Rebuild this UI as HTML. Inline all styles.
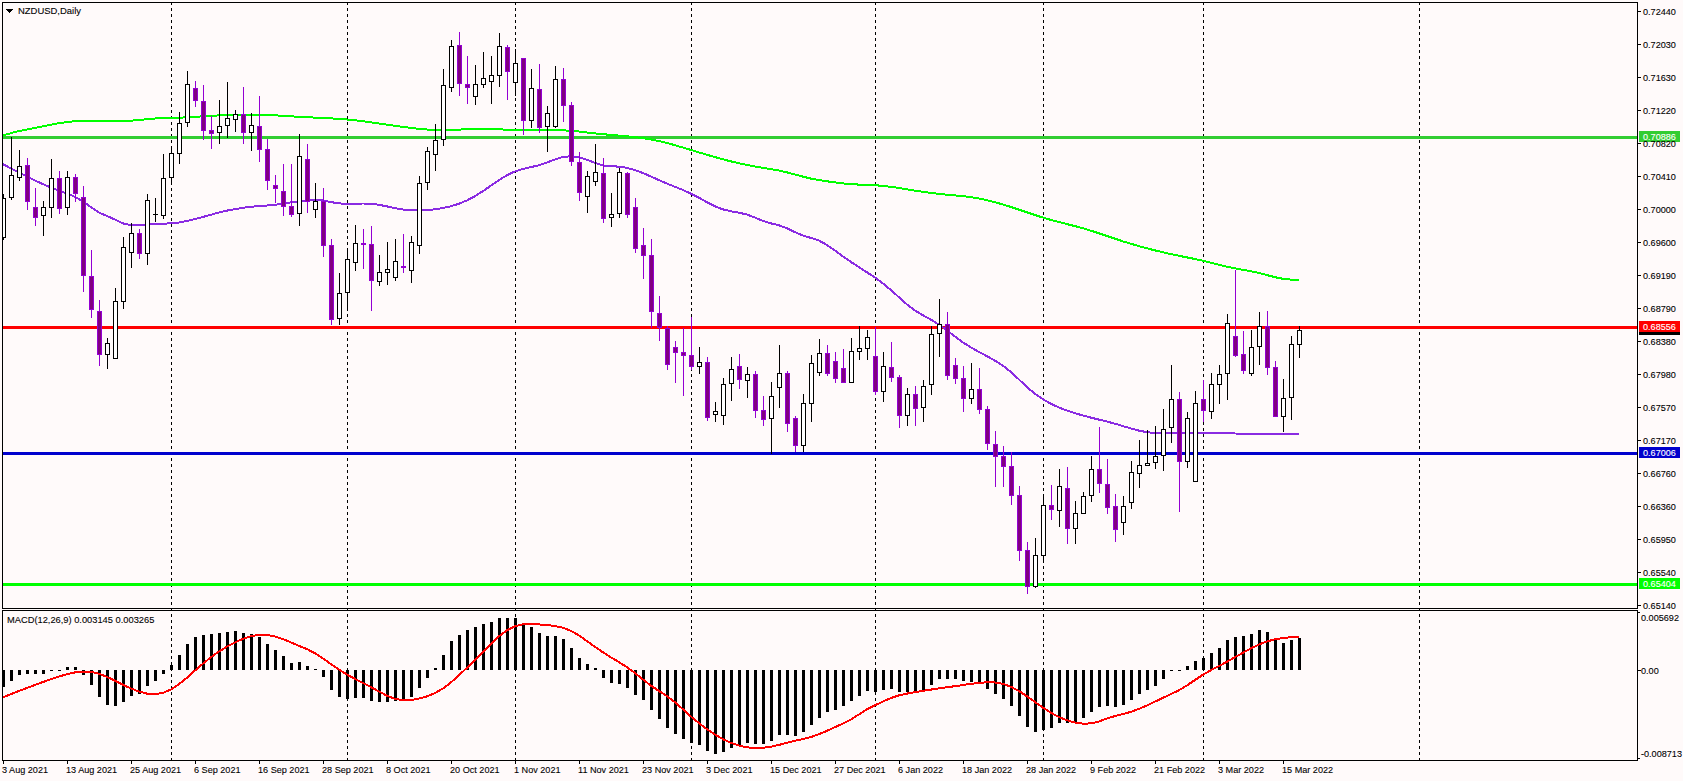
<!DOCTYPE html>
<html><head><meta charset="utf-8"><title>NZDUSD,Daily</title>
<style>html,body{margin:0;padding:0;background:#FFFAFA;overflow:hidden}svg{display:block}</style>
</head><body><svg width="1683" height="781" viewBox="0 0 1683 781" shape-rendering="crispEdges"><rect width="1683" height="781" fill="#FFFAFA"/><rect x="171" y="3" width="1" height="2" fill="#000"/><rect x="171" y="8" width="1" height="3" fill="#000"/><rect x="171" y="14" width="1" height="3" fill="#000"/><rect x="171" y="20" width="1" height="3" fill="#000"/><rect x="171" y="26" width="1" height="3" fill="#000"/><rect x="171" y="32" width="1" height="3" fill="#000"/><rect x="171" y="38" width="1" height="3" fill="#000"/><rect x="171" y="44" width="1" height="3" fill="#000"/><rect x="171" y="50" width="1" height="3" fill="#000"/><rect x="171" y="56" width="1" height="3" fill="#000"/><rect x="171" y="62" width="1" height="3" fill="#000"/><rect x="171" y="68" width="1" height="3" fill="#000"/><rect x="171" y="74" width="1" height="3" fill="#000"/><rect x="171" y="80" width="1" height="3" fill="#000"/><rect x="171" y="86" width="1" height="3" fill="#000"/><rect x="171" y="92" width="1" height="3" fill="#000"/><rect x="171" y="98" width="1" height="3" fill="#000"/><rect x="171" y="104" width="1" height="3" fill="#000"/><rect x="171" y="110" width="1" height="3" fill="#000"/><rect x="171" y="116" width="1" height="3" fill="#000"/><rect x="171" y="122" width="1" height="3" fill="#000"/><rect x="171" y="128" width="1" height="3" fill="#000"/><rect x="171" y="134" width="1" height="3" fill="#000"/><rect x="171" y="140" width="1" height="3" fill="#000"/><rect x="171" y="146" width="1" height="3" fill="#000"/><rect x="171" y="152" width="1" height="3" fill="#000"/><rect x="171" y="158" width="1" height="3" fill="#000"/><rect x="171" y="164" width="1" height="3" fill="#000"/><rect x="171" y="170" width="1" height="3" fill="#000"/><rect x="171" y="176" width="1" height="3" fill="#000"/><rect x="171" y="182" width="1" height="3" fill="#000"/><rect x="171" y="188" width="1" height="3" fill="#000"/><rect x="171" y="194" width="1" height="3" fill="#000"/><rect x="171" y="200" width="1" height="3" fill="#000"/><rect x="171" y="206" width="1" height="3" fill="#000"/><rect x="171" y="212" width="1" height="3" fill="#000"/><rect x="171" y="218" width="1" height="3" fill="#000"/><rect x="171" y="224" width="1" height="3" fill="#000"/><rect x="171" y="230" width="1" height="3" fill="#000"/><rect x="171" y="236" width="1" height="3" fill="#000"/><rect x="171" y="242" width="1" height="3" fill="#000"/><rect x="171" y="248" width="1" height="3" fill="#000"/><rect x="171" y="254" width="1" height="3" fill="#000"/><rect x="171" y="260" width="1" height="3" fill="#000"/><rect x="171" y="266" width="1" height="3" fill="#000"/><rect x="171" y="272" width="1" height="3" fill="#000"/><rect x="171" y="278" width="1" height="3" fill="#000"/><rect x="171" y="284" width="1" height="3" fill="#000"/><rect x="171" y="290" width="1" height="3" fill="#000"/><rect x="171" y="296" width="1" height="3" fill="#000"/><rect x="171" y="302" width="1" height="3" fill="#000"/><rect x="171" y="308" width="1" height="3" fill="#000"/><rect x="171" y="314" width="1" height="3" fill="#000"/><rect x="171" y="320" width="1" height="3" fill="#000"/><rect x="171" y="326" width="1" height="3" fill="#000"/><rect x="171" y="332" width="1" height="3" fill="#000"/><rect x="171" y="338" width="1" height="3" fill="#000"/><rect x="171" y="344" width="1" height="3" fill="#000"/><rect x="171" y="350" width="1" height="3" fill="#000"/><rect x="171" y="356" width="1" height="3" fill="#000"/><rect x="171" y="362" width="1" height="3" fill="#000"/><rect x="171" y="368" width="1" height="3" fill="#000"/><rect x="171" y="374" width="1" height="3" fill="#000"/><rect x="171" y="380" width="1" height="3" fill="#000"/><rect x="171" y="386" width="1" height="3" fill="#000"/><rect x="171" y="392" width="1" height="3" fill="#000"/><rect x="171" y="398" width="1" height="3" fill="#000"/><rect x="171" y="404" width="1" height="3" fill="#000"/><rect x="171" y="410" width="1" height="3" fill="#000"/><rect x="171" y="416" width="1" height="3" fill="#000"/><rect x="171" y="422" width="1" height="3" fill="#000"/><rect x="171" y="428" width="1" height="3" fill="#000"/><rect x="171" y="434" width="1" height="3" fill="#000"/><rect x="171" y="440" width="1" height="3" fill="#000"/><rect x="171" y="446" width="1" height="3" fill="#000"/><rect x="171" y="452" width="1" height="3" fill="#000"/><rect x="171" y="458" width="1" height="3" fill="#000"/><rect x="171" y="464" width="1" height="3" fill="#000"/><rect x="171" y="470" width="1" height="3" fill="#000"/><rect x="171" y="476" width="1" height="3" fill="#000"/><rect x="171" y="482" width="1" height="3" fill="#000"/><rect x="171" y="488" width="1" height="3" fill="#000"/><rect x="171" y="494" width="1" height="3" fill="#000"/><rect x="171" y="500" width="1" height="3" fill="#000"/><rect x="171" y="506" width="1" height="3" fill="#000"/><rect x="171" y="512" width="1" height="3" fill="#000"/><rect x="171" y="518" width="1" height="3" fill="#000"/><rect x="171" y="524" width="1" height="3" fill="#000"/><rect x="171" y="530" width="1" height="3" fill="#000"/><rect x="171" y="536" width="1" height="3" fill="#000"/><rect x="171" y="542" width="1" height="3" fill="#000"/><rect x="171" y="548" width="1" height="3" fill="#000"/><rect x="171" y="554" width="1" height="3" fill="#000"/><rect x="171" y="560" width="1" height="3" fill="#000"/><rect x="171" y="566" width="1" height="3" fill="#000"/><rect x="171" y="572" width="1" height="3" fill="#000"/><rect x="171" y="578" width="1" height="3" fill="#000"/><rect x="171" y="584" width="1" height="3" fill="#000"/><rect x="171" y="590" width="1" height="3" fill="#000"/><rect x="171" y="596" width="1" height="3" fill="#000"/><rect x="171" y="602" width="1" height="3" fill="#000"/><rect x="171" y="614" width="1" height="3" fill="#000"/><rect x="171" y="620" width="1" height="3" fill="#000"/><rect x="171" y="626" width="1" height="3" fill="#000"/><rect x="171" y="632" width="1" height="3" fill="#000"/><rect x="171" y="638" width="1" height="3" fill="#000"/><rect x="171" y="644" width="1" height="3" fill="#000"/><rect x="171" y="650" width="1" height="3" fill="#000"/><rect x="171" y="656" width="1" height="3" fill="#000"/><rect x="171" y="662" width="1" height="3" fill="#000"/><rect x="171" y="668" width="1" height="3" fill="#000"/><rect x="171" y="674" width="1" height="3" fill="#000"/><rect x="171" y="680" width="1" height="3" fill="#000"/><rect x="171" y="686" width="1" height="3" fill="#000"/><rect x="171" y="692" width="1" height="3" fill="#000"/><rect x="171" y="698" width="1" height="3" fill="#000"/><rect x="171" y="704" width="1" height="3" fill="#000"/><rect x="171" y="710" width="1" height="3" fill="#000"/><rect x="171" y="716" width="1" height="3" fill="#000"/><rect x="171" y="722" width="1" height="3" fill="#000"/><rect x="171" y="728" width="1" height="3" fill="#000"/><rect x="171" y="734" width="1" height="3" fill="#000"/><rect x="171" y="740" width="1" height="3" fill="#000"/><rect x="171" y="746" width="1" height="3" fill="#000"/><rect x="171" y="752" width="1" height="3" fill="#000"/><rect x="171" y="758" width="1" height="2" fill="#000"/><rect x="171" y="609" width="1" height="1" fill="#000"/><rect x="347" y="3" width="1" height="2" fill="#000"/><rect x="347" y="8" width="1" height="3" fill="#000"/><rect x="347" y="14" width="1" height="3" fill="#000"/><rect x="347" y="20" width="1" height="3" fill="#000"/><rect x="347" y="26" width="1" height="3" fill="#000"/><rect x="347" y="32" width="1" height="3" fill="#000"/><rect x="347" y="38" width="1" height="3" fill="#000"/><rect x="347" y="44" width="1" height="3" fill="#000"/><rect x="347" y="50" width="1" height="3" fill="#000"/><rect x="347" y="56" width="1" height="3" fill="#000"/><rect x="347" y="62" width="1" height="3" fill="#000"/><rect x="347" y="68" width="1" height="3" fill="#000"/><rect x="347" y="74" width="1" height="3" fill="#000"/><rect x="347" y="80" width="1" height="3" fill="#000"/><rect x="347" y="86" width="1" height="3" fill="#000"/><rect x="347" y="92" width="1" height="3" fill="#000"/><rect x="347" y="98" width="1" height="3" fill="#000"/><rect x="347" y="104" width="1" height="3" fill="#000"/><rect x="347" y="110" width="1" height="3" fill="#000"/><rect x="347" y="116" width="1" height="3" fill="#000"/><rect x="347" y="122" width="1" height="3" fill="#000"/><rect x="347" y="128" width="1" height="3" fill="#000"/><rect x="347" y="134" width="1" height="3" fill="#000"/><rect x="347" y="140" width="1" height="3" fill="#000"/><rect x="347" y="146" width="1" height="3" fill="#000"/><rect x="347" y="152" width="1" height="3" fill="#000"/><rect x="347" y="158" width="1" height="3" fill="#000"/><rect x="347" y="164" width="1" height="3" fill="#000"/><rect x="347" y="170" width="1" height="3" fill="#000"/><rect x="347" y="176" width="1" height="3" fill="#000"/><rect x="347" y="182" width="1" height="3" fill="#000"/><rect x="347" y="188" width="1" height="3" fill="#000"/><rect x="347" y="194" width="1" height="3" fill="#000"/><rect x="347" y="200" width="1" height="3" fill="#000"/><rect x="347" y="206" width="1" height="3" fill="#000"/><rect x="347" y="212" width="1" height="3" fill="#000"/><rect x="347" y="218" width="1" height="3" fill="#000"/><rect x="347" y="224" width="1" height="3" fill="#000"/><rect x="347" y="230" width="1" height="3" fill="#000"/><rect x="347" y="236" width="1" height="3" fill="#000"/><rect x="347" y="242" width="1" height="3" fill="#000"/><rect x="347" y="248" width="1" height="3" fill="#000"/><rect x="347" y="254" width="1" height="3" fill="#000"/><rect x="347" y="260" width="1" height="3" fill="#000"/><rect x="347" y="266" width="1" height="3" fill="#000"/><rect x="347" y="272" width="1" height="3" fill="#000"/><rect x="347" y="278" width="1" height="3" fill="#000"/><rect x="347" y="284" width="1" height="3" fill="#000"/><rect x="347" y="290" width="1" height="3" fill="#000"/><rect x="347" y="296" width="1" height="3" fill="#000"/><rect x="347" y="302" width="1" height="3" fill="#000"/><rect x="347" y="308" width="1" height="3" fill="#000"/><rect x="347" y="314" width="1" height="3" fill="#000"/><rect x="347" y="320" width="1" height="3" fill="#000"/><rect x="347" y="326" width="1" height="3" fill="#000"/><rect x="347" y="332" width="1" height="3" fill="#000"/><rect x="347" y="338" width="1" height="3" fill="#000"/><rect x="347" y="344" width="1" height="3" fill="#000"/><rect x="347" y="350" width="1" height="3" fill="#000"/><rect x="347" y="356" width="1" height="3" fill="#000"/><rect x="347" y="362" width="1" height="3" fill="#000"/><rect x="347" y="368" width="1" height="3" fill="#000"/><rect x="347" y="374" width="1" height="3" fill="#000"/><rect x="347" y="380" width="1" height="3" fill="#000"/><rect x="347" y="386" width="1" height="3" fill="#000"/><rect x="347" y="392" width="1" height="3" fill="#000"/><rect x="347" y="398" width="1" height="3" fill="#000"/><rect x="347" y="404" width="1" height="3" fill="#000"/><rect x="347" y="410" width="1" height="3" fill="#000"/><rect x="347" y="416" width="1" height="3" fill="#000"/><rect x="347" y="422" width="1" height="3" fill="#000"/><rect x="347" y="428" width="1" height="3" fill="#000"/><rect x="347" y="434" width="1" height="3" fill="#000"/><rect x="347" y="440" width="1" height="3" fill="#000"/><rect x="347" y="446" width="1" height="3" fill="#000"/><rect x="347" y="452" width="1" height="3" fill="#000"/><rect x="347" y="458" width="1" height="3" fill="#000"/><rect x="347" y="464" width="1" height="3" fill="#000"/><rect x="347" y="470" width="1" height="3" fill="#000"/><rect x="347" y="476" width="1" height="3" fill="#000"/><rect x="347" y="482" width="1" height="3" fill="#000"/><rect x="347" y="488" width="1" height="3" fill="#000"/><rect x="347" y="494" width="1" height="3" fill="#000"/><rect x="347" y="500" width="1" height="3" fill="#000"/><rect x="347" y="506" width="1" height="3" fill="#000"/><rect x="347" y="512" width="1" height="3" fill="#000"/><rect x="347" y="518" width="1" height="3" fill="#000"/><rect x="347" y="524" width="1" height="3" fill="#000"/><rect x="347" y="530" width="1" height="3" fill="#000"/><rect x="347" y="536" width="1" height="3" fill="#000"/><rect x="347" y="542" width="1" height="3" fill="#000"/><rect x="347" y="548" width="1" height="3" fill="#000"/><rect x="347" y="554" width="1" height="3" fill="#000"/><rect x="347" y="560" width="1" height="3" fill="#000"/><rect x="347" y="566" width="1" height="3" fill="#000"/><rect x="347" y="572" width="1" height="3" fill="#000"/><rect x="347" y="578" width="1" height="3" fill="#000"/><rect x="347" y="584" width="1" height="3" fill="#000"/><rect x="347" y="590" width="1" height="3" fill="#000"/><rect x="347" y="596" width="1" height="3" fill="#000"/><rect x="347" y="602" width="1" height="3" fill="#000"/><rect x="347" y="614" width="1" height="3" fill="#000"/><rect x="347" y="620" width="1" height="3" fill="#000"/><rect x="347" y="626" width="1" height="3" fill="#000"/><rect x="347" y="632" width="1" height="3" fill="#000"/><rect x="347" y="638" width="1" height="3" fill="#000"/><rect x="347" y="644" width="1" height="3" fill="#000"/><rect x="347" y="650" width="1" height="3" fill="#000"/><rect x="347" y="656" width="1" height="3" fill="#000"/><rect x="347" y="662" width="1" height="3" fill="#000"/><rect x="347" y="668" width="1" height="3" fill="#000"/><rect x="347" y="674" width="1" height="3" fill="#000"/><rect x="347" y="680" width="1" height="3" fill="#000"/><rect x="347" y="686" width="1" height="3" fill="#000"/><rect x="347" y="692" width="1" height="3" fill="#000"/><rect x="347" y="698" width="1" height="3" fill="#000"/><rect x="347" y="704" width="1" height="3" fill="#000"/><rect x="347" y="710" width="1" height="3" fill="#000"/><rect x="347" y="716" width="1" height="3" fill="#000"/><rect x="347" y="722" width="1" height="3" fill="#000"/><rect x="347" y="728" width="1" height="3" fill="#000"/><rect x="347" y="734" width="1" height="3" fill="#000"/><rect x="347" y="740" width="1" height="3" fill="#000"/><rect x="347" y="746" width="1" height="3" fill="#000"/><rect x="347" y="752" width="1" height="3" fill="#000"/><rect x="347" y="758" width="1" height="2" fill="#000"/><rect x="347" y="609" width="1" height="1" fill="#000"/><rect x="515" y="3" width="1" height="2" fill="#000"/><rect x="515" y="8" width="1" height="3" fill="#000"/><rect x="515" y="14" width="1" height="3" fill="#000"/><rect x="515" y="20" width="1" height="3" fill="#000"/><rect x="515" y="26" width="1" height="3" fill="#000"/><rect x="515" y="32" width="1" height="3" fill="#000"/><rect x="515" y="38" width="1" height="3" fill="#000"/><rect x="515" y="44" width="1" height="3" fill="#000"/><rect x="515" y="50" width="1" height="3" fill="#000"/><rect x="515" y="56" width="1" height="3" fill="#000"/><rect x="515" y="62" width="1" height="3" fill="#000"/><rect x="515" y="68" width="1" height="3" fill="#000"/><rect x="515" y="74" width="1" height="3" fill="#000"/><rect x="515" y="80" width="1" height="3" fill="#000"/><rect x="515" y="86" width="1" height="3" fill="#000"/><rect x="515" y="92" width="1" height="3" fill="#000"/><rect x="515" y="98" width="1" height="3" fill="#000"/><rect x="515" y="104" width="1" height="3" fill="#000"/><rect x="515" y="110" width="1" height="3" fill="#000"/><rect x="515" y="116" width="1" height="3" fill="#000"/><rect x="515" y="122" width="1" height="3" fill="#000"/><rect x="515" y="128" width="1" height="3" fill="#000"/><rect x="515" y="134" width="1" height="3" fill="#000"/><rect x="515" y="140" width="1" height="3" fill="#000"/><rect x="515" y="146" width="1" height="3" fill="#000"/><rect x="515" y="152" width="1" height="3" fill="#000"/><rect x="515" y="158" width="1" height="3" fill="#000"/><rect x="515" y="164" width="1" height="3" fill="#000"/><rect x="515" y="170" width="1" height="3" fill="#000"/><rect x="515" y="176" width="1" height="3" fill="#000"/><rect x="515" y="182" width="1" height="3" fill="#000"/><rect x="515" y="188" width="1" height="3" fill="#000"/><rect x="515" y="194" width="1" height="3" fill="#000"/><rect x="515" y="200" width="1" height="3" fill="#000"/><rect x="515" y="206" width="1" height="3" fill="#000"/><rect x="515" y="212" width="1" height="3" fill="#000"/><rect x="515" y="218" width="1" height="3" fill="#000"/><rect x="515" y="224" width="1" height="3" fill="#000"/><rect x="515" y="230" width="1" height="3" fill="#000"/><rect x="515" y="236" width="1" height="3" fill="#000"/><rect x="515" y="242" width="1" height="3" fill="#000"/><rect x="515" y="248" width="1" height="3" fill="#000"/><rect x="515" y="254" width="1" height="3" fill="#000"/><rect x="515" y="260" width="1" height="3" fill="#000"/><rect x="515" y="266" width="1" height="3" fill="#000"/><rect x="515" y="272" width="1" height="3" fill="#000"/><rect x="515" y="278" width="1" height="3" fill="#000"/><rect x="515" y="284" width="1" height="3" fill="#000"/><rect x="515" y="290" width="1" height="3" fill="#000"/><rect x="515" y="296" width="1" height="3" fill="#000"/><rect x="515" y="302" width="1" height="3" fill="#000"/><rect x="515" y="308" width="1" height="3" fill="#000"/><rect x="515" y="314" width="1" height="3" fill="#000"/><rect x="515" y="320" width="1" height="3" fill="#000"/><rect x="515" y="326" width="1" height="3" fill="#000"/><rect x="515" y="332" width="1" height="3" fill="#000"/><rect x="515" y="338" width="1" height="3" fill="#000"/><rect x="515" y="344" width="1" height="3" fill="#000"/><rect x="515" y="350" width="1" height="3" fill="#000"/><rect x="515" y="356" width="1" height="3" fill="#000"/><rect x="515" y="362" width="1" height="3" fill="#000"/><rect x="515" y="368" width="1" height="3" fill="#000"/><rect x="515" y="374" width="1" height="3" fill="#000"/><rect x="515" y="380" width="1" height="3" fill="#000"/><rect x="515" y="386" width="1" height="3" fill="#000"/><rect x="515" y="392" width="1" height="3" fill="#000"/><rect x="515" y="398" width="1" height="3" fill="#000"/><rect x="515" y="404" width="1" height="3" fill="#000"/><rect x="515" y="410" width="1" height="3" fill="#000"/><rect x="515" y="416" width="1" height="3" fill="#000"/><rect x="515" y="422" width="1" height="3" fill="#000"/><rect x="515" y="428" width="1" height="3" fill="#000"/><rect x="515" y="434" width="1" height="3" fill="#000"/><rect x="515" y="440" width="1" height="3" fill="#000"/><rect x="515" y="446" width="1" height="3" fill="#000"/><rect x="515" y="452" width="1" height="3" fill="#000"/><rect x="515" y="458" width="1" height="3" fill="#000"/><rect x="515" y="464" width="1" height="3" fill="#000"/><rect x="515" y="470" width="1" height="3" fill="#000"/><rect x="515" y="476" width="1" height="3" fill="#000"/><rect x="515" y="482" width="1" height="3" fill="#000"/><rect x="515" y="488" width="1" height="3" fill="#000"/><rect x="515" y="494" width="1" height="3" fill="#000"/><rect x="515" y="500" width="1" height="3" fill="#000"/><rect x="515" y="506" width="1" height="3" fill="#000"/><rect x="515" y="512" width="1" height="3" fill="#000"/><rect x="515" y="518" width="1" height="3" fill="#000"/><rect x="515" y="524" width="1" height="3" fill="#000"/><rect x="515" y="530" width="1" height="3" fill="#000"/><rect x="515" y="536" width="1" height="3" fill="#000"/><rect x="515" y="542" width="1" height="3" fill="#000"/><rect x="515" y="548" width="1" height="3" fill="#000"/><rect x="515" y="554" width="1" height="3" fill="#000"/><rect x="515" y="560" width="1" height="3" fill="#000"/><rect x="515" y="566" width="1" height="3" fill="#000"/><rect x="515" y="572" width="1" height="3" fill="#000"/><rect x="515" y="578" width="1" height="3" fill="#000"/><rect x="515" y="584" width="1" height="3" fill="#000"/><rect x="515" y="590" width="1" height="3" fill="#000"/><rect x="515" y="596" width="1" height="3" fill="#000"/><rect x="515" y="602" width="1" height="3" fill="#000"/><rect x="515" y="614" width="1" height="3" fill="#000"/><rect x="515" y="620" width="1" height="3" fill="#000"/><rect x="515" y="626" width="1" height="3" fill="#000"/><rect x="515" y="632" width="1" height="3" fill="#000"/><rect x="515" y="638" width="1" height="3" fill="#000"/><rect x="515" y="644" width="1" height="3" fill="#000"/><rect x="515" y="650" width="1" height="3" fill="#000"/><rect x="515" y="656" width="1" height="3" fill="#000"/><rect x="515" y="662" width="1" height="3" fill="#000"/><rect x="515" y="668" width="1" height="3" fill="#000"/><rect x="515" y="674" width="1" height="3" fill="#000"/><rect x="515" y="680" width="1" height="3" fill="#000"/><rect x="515" y="686" width="1" height="3" fill="#000"/><rect x="515" y="692" width="1" height="3" fill="#000"/><rect x="515" y="698" width="1" height="3" fill="#000"/><rect x="515" y="704" width="1" height="3" fill="#000"/><rect x="515" y="710" width="1" height="3" fill="#000"/><rect x="515" y="716" width="1" height="3" fill="#000"/><rect x="515" y="722" width="1" height="3" fill="#000"/><rect x="515" y="728" width="1" height="3" fill="#000"/><rect x="515" y="734" width="1" height="3" fill="#000"/><rect x="515" y="740" width="1" height="3" fill="#000"/><rect x="515" y="746" width="1" height="3" fill="#000"/><rect x="515" y="752" width="1" height="3" fill="#000"/><rect x="515" y="758" width="1" height="2" fill="#000"/><rect x="515" y="609" width="1" height="1" fill="#000"/><rect x="691" y="3" width="1" height="2" fill="#000"/><rect x="691" y="8" width="1" height="3" fill="#000"/><rect x="691" y="14" width="1" height="3" fill="#000"/><rect x="691" y="20" width="1" height="3" fill="#000"/><rect x="691" y="26" width="1" height="3" fill="#000"/><rect x="691" y="32" width="1" height="3" fill="#000"/><rect x="691" y="38" width="1" height="3" fill="#000"/><rect x="691" y="44" width="1" height="3" fill="#000"/><rect x="691" y="50" width="1" height="3" fill="#000"/><rect x="691" y="56" width="1" height="3" fill="#000"/><rect x="691" y="62" width="1" height="3" fill="#000"/><rect x="691" y="68" width="1" height="3" fill="#000"/><rect x="691" y="74" width="1" height="3" fill="#000"/><rect x="691" y="80" width="1" height="3" fill="#000"/><rect x="691" y="86" width="1" height="3" fill="#000"/><rect x="691" y="92" width="1" height="3" fill="#000"/><rect x="691" y="98" width="1" height="3" fill="#000"/><rect x="691" y="104" width="1" height="3" fill="#000"/><rect x="691" y="110" width="1" height="3" fill="#000"/><rect x="691" y="116" width="1" height="3" fill="#000"/><rect x="691" y="122" width="1" height="3" fill="#000"/><rect x="691" y="128" width="1" height="3" fill="#000"/><rect x="691" y="134" width="1" height="3" fill="#000"/><rect x="691" y="140" width="1" height="3" fill="#000"/><rect x="691" y="146" width="1" height="3" fill="#000"/><rect x="691" y="152" width="1" height="3" fill="#000"/><rect x="691" y="158" width="1" height="3" fill="#000"/><rect x="691" y="164" width="1" height="3" fill="#000"/><rect x="691" y="170" width="1" height="3" fill="#000"/><rect x="691" y="176" width="1" height="3" fill="#000"/><rect x="691" y="182" width="1" height="3" fill="#000"/><rect x="691" y="188" width="1" height="3" fill="#000"/><rect x="691" y="194" width="1" height="3" fill="#000"/><rect x="691" y="200" width="1" height="3" fill="#000"/><rect x="691" y="206" width="1" height="3" fill="#000"/><rect x="691" y="212" width="1" height="3" fill="#000"/><rect x="691" y="218" width="1" height="3" fill="#000"/><rect x="691" y="224" width="1" height="3" fill="#000"/><rect x="691" y="230" width="1" height="3" fill="#000"/><rect x="691" y="236" width="1" height="3" fill="#000"/><rect x="691" y="242" width="1" height="3" fill="#000"/><rect x="691" y="248" width="1" height="3" fill="#000"/><rect x="691" y="254" width="1" height="3" fill="#000"/><rect x="691" y="260" width="1" height="3" fill="#000"/><rect x="691" y="266" width="1" height="3" fill="#000"/><rect x="691" y="272" width="1" height="3" fill="#000"/><rect x="691" y="278" width="1" height="3" fill="#000"/><rect x="691" y="284" width="1" height="3" fill="#000"/><rect x="691" y="290" width="1" height="3" fill="#000"/><rect x="691" y="296" width="1" height="3" fill="#000"/><rect x="691" y="302" width="1" height="3" fill="#000"/><rect x="691" y="308" width="1" height="3" fill="#000"/><rect x="691" y="314" width="1" height="3" fill="#000"/><rect x="691" y="320" width="1" height="3" fill="#000"/><rect x="691" y="326" width="1" height="3" fill="#000"/><rect x="691" y="332" width="1" height="3" fill="#000"/><rect x="691" y="338" width="1" height="3" fill="#000"/><rect x="691" y="344" width="1" height="3" fill="#000"/><rect x="691" y="350" width="1" height="3" fill="#000"/><rect x="691" y="356" width="1" height="3" fill="#000"/><rect x="691" y="362" width="1" height="3" fill="#000"/><rect x="691" y="368" width="1" height="3" fill="#000"/><rect x="691" y="374" width="1" height="3" fill="#000"/><rect x="691" y="380" width="1" height="3" fill="#000"/><rect x="691" y="386" width="1" height="3" fill="#000"/><rect x="691" y="392" width="1" height="3" fill="#000"/><rect x="691" y="398" width="1" height="3" fill="#000"/><rect x="691" y="404" width="1" height="3" fill="#000"/><rect x="691" y="410" width="1" height="3" fill="#000"/><rect x="691" y="416" width="1" height="3" fill="#000"/><rect x="691" y="422" width="1" height="3" fill="#000"/><rect x="691" y="428" width="1" height="3" fill="#000"/><rect x="691" y="434" width="1" height="3" fill="#000"/><rect x="691" y="440" width="1" height="3" fill="#000"/><rect x="691" y="446" width="1" height="3" fill="#000"/><rect x="691" y="452" width="1" height="3" fill="#000"/><rect x="691" y="458" width="1" height="3" fill="#000"/><rect x="691" y="464" width="1" height="3" fill="#000"/><rect x="691" y="470" width="1" height="3" fill="#000"/><rect x="691" y="476" width="1" height="3" fill="#000"/><rect x="691" y="482" width="1" height="3" fill="#000"/><rect x="691" y="488" width="1" height="3" fill="#000"/><rect x="691" y="494" width="1" height="3" fill="#000"/><rect x="691" y="500" width="1" height="3" fill="#000"/><rect x="691" y="506" width="1" height="3" fill="#000"/><rect x="691" y="512" width="1" height="3" fill="#000"/><rect x="691" y="518" width="1" height="3" fill="#000"/><rect x="691" y="524" width="1" height="3" fill="#000"/><rect x="691" y="530" width="1" height="3" fill="#000"/><rect x="691" y="536" width="1" height="3" fill="#000"/><rect x="691" y="542" width="1" height="3" fill="#000"/><rect x="691" y="548" width="1" height="3" fill="#000"/><rect x="691" y="554" width="1" height="3" fill="#000"/><rect x="691" y="560" width="1" height="3" fill="#000"/><rect x="691" y="566" width="1" height="3" fill="#000"/><rect x="691" y="572" width="1" height="3" fill="#000"/><rect x="691" y="578" width="1" height="3" fill="#000"/><rect x="691" y="584" width="1" height="3" fill="#000"/><rect x="691" y="590" width="1" height="3" fill="#000"/><rect x="691" y="596" width="1" height="3" fill="#000"/><rect x="691" y="602" width="1" height="3" fill="#000"/><rect x="691" y="614" width="1" height="3" fill="#000"/><rect x="691" y="620" width="1" height="3" fill="#000"/><rect x="691" y="626" width="1" height="3" fill="#000"/><rect x="691" y="632" width="1" height="3" fill="#000"/><rect x="691" y="638" width="1" height="3" fill="#000"/><rect x="691" y="644" width="1" height="3" fill="#000"/><rect x="691" y="650" width="1" height="3" fill="#000"/><rect x="691" y="656" width="1" height="3" fill="#000"/><rect x="691" y="662" width="1" height="3" fill="#000"/><rect x="691" y="668" width="1" height="3" fill="#000"/><rect x="691" y="674" width="1" height="3" fill="#000"/><rect x="691" y="680" width="1" height="3" fill="#000"/><rect x="691" y="686" width="1" height="3" fill="#000"/><rect x="691" y="692" width="1" height="3" fill="#000"/><rect x="691" y="698" width="1" height="3" fill="#000"/><rect x="691" y="704" width="1" height="3" fill="#000"/><rect x="691" y="710" width="1" height="3" fill="#000"/><rect x="691" y="716" width="1" height="3" fill="#000"/><rect x="691" y="722" width="1" height="3" fill="#000"/><rect x="691" y="728" width="1" height="3" fill="#000"/><rect x="691" y="734" width="1" height="3" fill="#000"/><rect x="691" y="740" width="1" height="3" fill="#000"/><rect x="691" y="746" width="1" height="3" fill="#000"/><rect x="691" y="752" width="1" height="3" fill="#000"/><rect x="691" y="758" width="1" height="2" fill="#000"/><rect x="691" y="609" width="1" height="1" fill="#000"/><rect x="875" y="3" width="1" height="2" fill="#000"/><rect x="875" y="8" width="1" height="3" fill="#000"/><rect x="875" y="14" width="1" height="3" fill="#000"/><rect x="875" y="20" width="1" height="3" fill="#000"/><rect x="875" y="26" width="1" height="3" fill="#000"/><rect x="875" y="32" width="1" height="3" fill="#000"/><rect x="875" y="38" width="1" height="3" fill="#000"/><rect x="875" y="44" width="1" height="3" fill="#000"/><rect x="875" y="50" width="1" height="3" fill="#000"/><rect x="875" y="56" width="1" height="3" fill="#000"/><rect x="875" y="62" width="1" height="3" fill="#000"/><rect x="875" y="68" width="1" height="3" fill="#000"/><rect x="875" y="74" width="1" height="3" fill="#000"/><rect x="875" y="80" width="1" height="3" fill="#000"/><rect x="875" y="86" width="1" height="3" fill="#000"/><rect x="875" y="92" width="1" height="3" fill="#000"/><rect x="875" y="98" width="1" height="3" fill="#000"/><rect x="875" y="104" width="1" height="3" fill="#000"/><rect x="875" y="110" width="1" height="3" fill="#000"/><rect x="875" y="116" width="1" height="3" fill="#000"/><rect x="875" y="122" width="1" height="3" fill="#000"/><rect x="875" y="128" width="1" height="3" fill="#000"/><rect x="875" y="134" width="1" height="3" fill="#000"/><rect x="875" y="140" width="1" height="3" fill="#000"/><rect x="875" y="146" width="1" height="3" fill="#000"/><rect x="875" y="152" width="1" height="3" fill="#000"/><rect x="875" y="158" width="1" height="3" fill="#000"/><rect x="875" y="164" width="1" height="3" fill="#000"/><rect x="875" y="170" width="1" height="3" fill="#000"/><rect x="875" y="176" width="1" height="3" fill="#000"/><rect x="875" y="182" width="1" height="3" fill="#000"/><rect x="875" y="188" width="1" height="3" fill="#000"/><rect x="875" y="194" width="1" height="3" fill="#000"/><rect x="875" y="200" width="1" height="3" fill="#000"/><rect x="875" y="206" width="1" height="3" fill="#000"/><rect x="875" y="212" width="1" height="3" fill="#000"/><rect x="875" y="218" width="1" height="3" fill="#000"/><rect x="875" y="224" width="1" height="3" fill="#000"/><rect x="875" y="230" width="1" height="3" fill="#000"/><rect x="875" y="236" width="1" height="3" fill="#000"/><rect x="875" y="242" width="1" height="3" fill="#000"/><rect x="875" y="248" width="1" height="3" fill="#000"/><rect x="875" y="254" width="1" height="3" fill="#000"/><rect x="875" y="260" width="1" height="3" fill="#000"/><rect x="875" y="266" width="1" height="3" fill="#000"/><rect x="875" y="272" width="1" height="3" fill="#000"/><rect x="875" y="278" width="1" height="3" fill="#000"/><rect x="875" y="284" width="1" height="3" fill="#000"/><rect x="875" y="290" width="1" height="3" fill="#000"/><rect x="875" y="296" width="1" height="3" fill="#000"/><rect x="875" y="302" width="1" height="3" fill="#000"/><rect x="875" y="308" width="1" height="3" fill="#000"/><rect x="875" y="314" width="1" height="3" fill="#000"/><rect x="875" y="320" width="1" height="3" fill="#000"/><rect x="875" y="326" width="1" height="3" fill="#000"/><rect x="875" y="332" width="1" height="3" fill="#000"/><rect x="875" y="338" width="1" height="3" fill="#000"/><rect x="875" y="344" width="1" height="3" fill="#000"/><rect x="875" y="350" width="1" height="3" fill="#000"/><rect x="875" y="356" width="1" height="3" fill="#000"/><rect x="875" y="362" width="1" height="3" fill="#000"/><rect x="875" y="368" width="1" height="3" fill="#000"/><rect x="875" y="374" width="1" height="3" fill="#000"/><rect x="875" y="380" width="1" height="3" fill="#000"/><rect x="875" y="386" width="1" height="3" fill="#000"/><rect x="875" y="392" width="1" height="3" fill="#000"/><rect x="875" y="398" width="1" height="3" fill="#000"/><rect x="875" y="404" width="1" height="3" fill="#000"/><rect x="875" y="410" width="1" height="3" fill="#000"/><rect x="875" y="416" width="1" height="3" fill="#000"/><rect x="875" y="422" width="1" height="3" fill="#000"/><rect x="875" y="428" width="1" height="3" fill="#000"/><rect x="875" y="434" width="1" height="3" fill="#000"/><rect x="875" y="440" width="1" height="3" fill="#000"/><rect x="875" y="446" width="1" height="3" fill="#000"/><rect x="875" y="452" width="1" height="3" fill="#000"/><rect x="875" y="458" width="1" height="3" fill="#000"/><rect x="875" y="464" width="1" height="3" fill="#000"/><rect x="875" y="470" width="1" height="3" fill="#000"/><rect x="875" y="476" width="1" height="3" fill="#000"/><rect x="875" y="482" width="1" height="3" fill="#000"/><rect x="875" y="488" width="1" height="3" fill="#000"/><rect x="875" y="494" width="1" height="3" fill="#000"/><rect x="875" y="500" width="1" height="3" fill="#000"/><rect x="875" y="506" width="1" height="3" fill="#000"/><rect x="875" y="512" width="1" height="3" fill="#000"/><rect x="875" y="518" width="1" height="3" fill="#000"/><rect x="875" y="524" width="1" height="3" fill="#000"/><rect x="875" y="530" width="1" height="3" fill="#000"/><rect x="875" y="536" width="1" height="3" fill="#000"/><rect x="875" y="542" width="1" height="3" fill="#000"/><rect x="875" y="548" width="1" height="3" fill="#000"/><rect x="875" y="554" width="1" height="3" fill="#000"/><rect x="875" y="560" width="1" height="3" fill="#000"/><rect x="875" y="566" width="1" height="3" fill="#000"/><rect x="875" y="572" width="1" height="3" fill="#000"/><rect x="875" y="578" width="1" height="3" fill="#000"/><rect x="875" y="584" width="1" height="3" fill="#000"/><rect x="875" y="590" width="1" height="3" fill="#000"/><rect x="875" y="596" width="1" height="3" fill="#000"/><rect x="875" y="602" width="1" height="3" fill="#000"/><rect x="875" y="614" width="1" height="3" fill="#000"/><rect x="875" y="620" width="1" height="3" fill="#000"/><rect x="875" y="626" width="1" height="3" fill="#000"/><rect x="875" y="632" width="1" height="3" fill="#000"/><rect x="875" y="638" width="1" height="3" fill="#000"/><rect x="875" y="644" width="1" height="3" fill="#000"/><rect x="875" y="650" width="1" height="3" fill="#000"/><rect x="875" y="656" width="1" height="3" fill="#000"/><rect x="875" y="662" width="1" height="3" fill="#000"/><rect x="875" y="668" width="1" height="3" fill="#000"/><rect x="875" y="674" width="1" height="3" fill="#000"/><rect x="875" y="680" width="1" height="3" fill="#000"/><rect x="875" y="686" width="1" height="3" fill="#000"/><rect x="875" y="692" width="1" height="3" fill="#000"/><rect x="875" y="698" width="1" height="3" fill="#000"/><rect x="875" y="704" width="1" height="3" fill="#000"/><rect x="875" y="710" width="1" height="3" fill="#000"/><rect x="875" y="716" width="1" height="3" fill="#000"/><rect x="875" y="722" width="1" height="3" fill="#000"/><rect x="875" y="728" width="1" height="3" fill="#000"/><rect x="875" y="734" width="1" height="3" fill="#000"/><rect x="875" y="740" width="1" height="3" fill="#000"/><rect x="875" y="746" width="1" height="3" fill="#000"/><rect x="875" y="752" width="1" height="3" fill="#000"/><rect x="875" y="758" width="1" height="2" fill="#000"/><rect x="875" y="609" width="1" height="1" fill="#000"/><rect x="1043" y="3" width="1" height="2" fill="#000"/><rect x="1043" y="8" width="1" height="3" fill="#000"/><rect x="1043" y="14" width="1" height="3" fill="#000"/><rect x="1043" y="20" width="1" height="3" fill="#000"/><rect x="1043" y="26" width="1" height="3" fill="#000"/><rect x="1043" y="32" width="1" height="3" fill="#000"/><rect x="1043" y="38" width="1" height="3" fill="#000"/><rect x="1043" y="44" width="1" height="3" fill="#000"/><rect x="1043" y="50" width="1" height="3" fill="#000"/><rect x="1043" y="56" width="1" height="3" fill="#000"/><rect x="1043" y="62" width="1" height="3" fill="#000"/><rect x="1043" y="68" width="1" height="3" fill="#000"/><rect x="1043" y="74" width="1" height="3" fill="#000"/><rect x="1043" y="80" width="1" height="3" fill="#000"/><rect x="1043" y="86" width="1" height="3" fill="#000"/><rect x="1043" y="92" width="1" height="3" fill="#000"/><rect x="1043" y="98" width="1" height="3" fill="#000"/><rect x="1043" y="104" width="1" height="3" fill="#000"/><rect x="1043" y="110" width="1" height="3" fill="#000"/><rect x="1043" y="116" width="1" height="3" fill="#000"/><rect x="1043" y="122" width="1" height="3" fill="#000"/><rect x="1043" y="128" width="1" height="3" fill="#000"/><rect x="1043" y="134" width="1" height="3" fill="#000"/><rect x="1043" y="140" width="1" height="3" fill="#000"/><rect x="1043" y="146" width="1" height="3" fill="#000"/><rect x="1043" y="152" width="1" height="3" fill="#000"/><rect x="1043" y="158" width="1" height="3" fill="#000"/><rect x="1043" y="164" width="1" height="3" fill="#000"/><rect x="1043" y="170" width="1" height="3" fill="#000"/><rect x="1043" y="176" width="1" height="3" fill="#000"/><rect x="1043" y="182" width="1" height="3" fill="#000"/><rect x="1043" y="188" width="1" height="3" fill="#000"/><rect x="1043" y="194" width="1" height="3" fill="#000"/><rect x="1043" y="200" width="1" height="3" fill="#000"/><rect x="1043" y="206" width="1" height="3" fill="#000"/><rect x="1043" y="212" width="1" height="3" fill="#000"/><rect x="1043" y="218" width="1" height="3" fill="#000"/><rect x="1043" y="224" width="1" height="3" fill="#000"/><rect x="1043" y="230" width="1" height="3" fill="#000"/><rect x="1043" y="236" width="1" height="3" fill="#000"/><rect x="1043" y="242" width="1" height="3" fill="#000"/><rect x="1043" y="248" width="1" height="3" fill="#000"/><rect x="1043" y="254" width="1" height="3" fill="#000"/><rect x="1043" y="260" width="1" height="3" fill="#000"/><rect x="1043" y="266" width="1" height="3" fill="#000"/><rect x="1043" y="272" width="1" height="3" fill="#000"/><rect x="1043" y="278" width="1" height="3" fill="#000"/><rect x="1043" y="284" width="1" height="3" fill="#000"/><rect x="1043" y="290" width="1" height="3" fill="#000"/><rect x="1043" y="296" width="1" height="3" fill="#000"/><rect x="1043" y="302" width="1" height="3" fill="#000"/><rect x="1043" y="308" width="1" height="3" fill="#000"/><rect x="1043" y="314" width="1" height="3" fill="#000"/><rect x="1043" y="320" width="1" height="3" fill="#000"/><rect x="1043" y="326" width="1" height="3" fill="#000"/><rect x="1043" y="332" width="1" height="3" fill="#000"/><rect x="1043" y="338" width="1" height="3" fill="#000"/><rect x="1043" y="344" width="1" height="3" fill="#000"/><rect x="1043" y="350" width="1" height="3" fill="#000"/><rect x="1043" y="356" width="1" height="3" fill="#000"/><rect x="1043" y="362" width="1" height="3" fill="#000"/><rect x="1043" y="368" width="1" height="3" fill="#000"/><rect x="1043" y="374" width="1" height="3" fill="#000"/><rect x="1043" y="380" width="1" height="3" fill="#000"/><rect x="1043" y="386" width="1" height="3" fill="#000"/><rect x="1043" y="392" width="1" height="3" fill="#000"/><rect x="1043" y="398" width="1" height="3" fill="#000"/><rect x="1043" y="404" width="1" height="3" fill="#000"/><rect x="1043" y="410" width="1" height="3" fill="#000"/><rect x="1043" y="416" width="1" height="3" fill="#000"/><rect x="1043" y="422" width="1" height="3" fill="#000"/><rect x="1043" y="428" width="1" height="3" fill="#000"/><rect x="1043" y="434" width="1" height="3" fill="#000"/><rect x="1043" y="440" width="1" height="3" fill="#000"/><rect x="1043" y="446" width="1" height="3" fill="#000"/><rect x="1043" y="452" width="1" height="3" fill="#000"/><rect x="1043" y="458" width="1" height="3" fill="#000"/><rect x="1043" y="464" width="1" height="3" fill="#000"/><rect x="1043" y="470" width="1" height="3" fill="#000"/><rect x="1043" y="476" width="1" height="3" fill="#000"/><rect x="1043" y="482" width="1" height="3" fill="#000"/><rect x="1043" y="488" width="1" height="3" fill="#000"/><rect x="1043" y="494" width="1" height="3" fill="#000"/><rect x="1043" y="500" width="1" height="3" fill="#000"/><rect x="1043" y="506" width="1" height="3" fill="#000"/><rect x="1043" y="512" width="1" height="3" fill="#000"/><rect x="1043" y="518" width="1" height="3" fill="#000"/><rect x="1043" y="524" width="1" height="3" fill="#000"/><rect x="1043" y="530" width="1" height="3" fill="#000"/><rect x="1043" y="536" width="1" height="3" fill="#000"/><rect x="1043" y="542" width="1" height="3" fill="#000"/><rect x="1043" y="548" width="1" height="3" fill="#000"/><rect x="1043" y="554" width="1" height="3" fill="#000"/><rect x="1043" y="560" width="1" height="3" fill="#000"/><rect x="1043" y="566" width="1" height="3" fill="#000"/><rect x="1043" y="572" width="1" height="3" fill="#000"/><rect x="1043" y="578" width="1" height="3" fill="#000"/><rect x="1043" y="584" width="1" height="3" fill="#000"/><rect x="1043" y="590" width="1" height="3" fill="#000"/><rect x="1043" y="596" width="1" height="3" fill="#000"/><rect x="1043" y="602" width="1" height="3" fill="#000"/><rect x="1043" y="614" width="1" height="3" fill="#000"/><rect x="1043" y="620" width="1" height="3" fill="#000"/><rect x="1043" y="626" width="1" height="3" fill="#000"/><rect x="1043" y="632" width="1" height="3" fill="#000"/><rect x="1043" y="638" width="1" height="3" fill="#000"/><rect x="1043" y="644" width="1" height="3" fill="#000"/><rect x="1043" y="650" width="1" height="3" fill="#000"/><rect x="1043" y="656" width="1" height="3" fill="#000"/><rect x="1043" y="662" width="1" height="3" fill="#000"/><rect x="1043" y="668" width="1" height="3" fill="#000"/><rect x="1043" y="674" width="1" height="3" fill="#000"/><rect x="1043" y="680" width="1" height="3" fill="#000"/><rect x="1043" y="686" width="1" height="3" fill="#000"/><rect x="1043" y="692" width="1" height="3" fill="#000"/><rect x="1043" y="698" width="1" height="3" fill="#000"/><rect x="1043" y="704" width="1" height="3" fill="#000"/><rect x="1043" y="710" width="1" height="3" fill="#000"/><rect x="1043" y="716" width="1" height="3" fill="#000"/><rect x="1043" y="722" width="1" height="3" fill="#000"/><rect x="1043" y="728" width="1" height="3" fill="#000"/><rect x="1043" y="734" width="1" height="3" fill="#000"/><rect x="1043" y="740" width="1" height="3" fill="#000"/><rect x="1043" y="746" width="1" height="3" fill="#000"/><rect x="1043" y="752" width="1" height="3" fill="#000"/><rect x="1043" y="758" width="1" height="2" fill="#000"/><rect x="1043" y="609" width="1" height="1" fill="#000"/><rect x="1203" y="3" width="1" height="2" fill="#000"/><rect x="1203" y="8" width="1" height="3" fill="#000"/><rect x="1203" y="14" width="1" height="3" fill="#000"/><rect x="1203" y="20" width="1" height="3" fill="#000"/><rect x="1203" y="26" width="1" height="3" fill="#000"/><rect x="1203" y="32" width="1" height="3" fill="#000"/><rect x="1203" y="38" width="1" height="3" fill="#000"/><rect x="1203" y="44" width="1" height="3" fill="#000"/><rect x="1203" y="50" width="1" height="3" fill="#000"/><rect x="1203" y="56" width="1" height="3" fill="#000"/><rect x="1203" y="62" width="1" height="3" fill="#000"/><rect x="1203" y="68" width="1" height="3" fill="#000"/><rect x="1203" y="74" width="1" height="3" fill="#000"/><rect x="1203" y="80" width="1" height="3" fill="#000"/><rect x="1203" y="86" width="1" height="3" fill="#000"/><rect x="1203" y="92" width="1" height="3" fill="#000"/><rect x="1203" y="98" width="1" height="3" fill="#000"/><rect x="1203" y="104" width="1" height="3" fill="#000"/><rect x="1203" y="110" width="1" height="3" fill="#000"/><rect x="1203" y="116" width="1" height="3" fill="#000"/><rect x="1203" y="122" width="1" height="3" fill="#000"/><rect x="1203" y="128" width="1" height="3" fill="#000"/><rect x="1203" y="134" width="1" height="3" fill="#000"/><rect x="1203" y="140" width="1" height="3" fill="#000"/><rect x="1203" y="146" width="1" height="3" fill="#000"/><rect x="1203" y="152" width="1" height="3" fill="#000"/><rect x="1203" y="158" width="1" height="3" fill="#000"/><rect x="1203" y="164" width="1" height="3" fill="#000"/><rect x="1203" y="170" width="1" height="3" fill="#000"/><rect x="1203" y="176" width="1" height="3" fill="#000"/><rect x="1203" y="182" width="1" height="3" fill="#000"/><rect x="1203" y="188" width="1" height="3" fill="#000"/><rect x="1203" y="194" width="1" height="3" fill="#000"/><rect x="1203" y="200" width="1" height="3" fill="#000"/><rect x="1203" y="206" width="1" height="3" fill="#000"/><rect x="1203" y="212" width="1" height="3" fill="#000"/><rect x="1203" y="218" width="1" height="3" fill="#000"/><rect x="1203" y="224" width="1" height="3" fill="#000"/><rect x="1203" y="230" width="1" height="3" fill="#000"/><rect x="1203" y="236" width="1" height="3" fill="#000"/><rect x="1203" y="242" width="1" height="3" fill="#000"/><rect x="1203" y="248" width="1" height="3" fill="#000"/><rect x="1203" y="254" width="1" height="3" fill="#000"/><rect x="1203" y="260" width="1" height="3" fill="#000"/><rect x="1203" y="266" width="1" height="3" fill="#000"/><rect x="1203" y="272" width="1" height="3" fill="#000"/><rect x="1203" y="278" width="1" height="3" fill="#000"/><rect x="1203" y="284" width="1" height="3" fill="#000"/><rect x="1203" y="290" width="1" height="3" fill="#000"/><rect x="1203" y="296" width="1" height="3" fill="#000"/><rect x="1203" y="302" width="1" height="3" fill="#000"/><rect x="1203" y="308" width="1" height="3" fill="#000"/><rect x="1203" y="314" width="1" height="3" fill="#000"/><rect x="1203" y="320" width="1" height="3" fill="#000"/><rect x="1203" y="326" width="1" height="3" fill="#000"/><rect x="1203" y="332" width="1" height="3" fill="#000"/><rect x="1203" y="338" width="1" height="3" fill="#000"/><rect x="1203" y="344" width="1" height="3" fill="#000"/><rect x="1203" y="350" width="1" height="3" fill="#000"/><rect x="1203" y="356" width="1" height="3" fill="#000"/><rect x="1203" y="362" width="1" height="3" fill="#000"/><rect x="1203" y="368" width="1" height="3" fill="#000"/><rect x="1203" y="374" width="1" height="3" fill="#000"/><rect x="1203" y="380" width="1" height="3" fill="#000"/><rect x="1203" y="386" width="1" height="3" fill="#000"/><rect x="1203" y="392" width="1" height="3" fill="#000"/><rect x="1203" y="398" width="1" height="3" fill="#000"/><rect x="1203" y="404" width="1" height="3" fill="#000"/><rect x="1203" y="410" width="1" height="3" fill="#000"/><rect x="1203" y="416" width="1" height="3" fill="#000"/><rect x="1203" y="422" width="1" height="3" fill="#000"/><rect x="1203" y="428" width="1" height="3" fill="#000"/><rect x="1203" y="434" width="1" height="3" fill="#000"/><rect x="1203" y="440" width="1" height="3" fill="#000"/><rect x="1203" y="446" width="1" height="3" fill="#000"/><rect x="1203" y="452" width="1" height="3" fill="#000"/><rect x="1203" y="458" width="1" height="3" fill="#000"/><rect x="1203" y="464" width="1" height="3" fill="#000"/><rect x="1203" y="470" width="1" height="3" fill="#000"/><rect x="1203" y="476" width="1" height="3" fill="#000"/><rect x="1203" y="482" width="1" height="3" fill="#000"/><rect x="1203" y="488" width="1" height="3" fill="#000"/><rect x="1203" y="494" width="1" height="3" fill="#000"/><rect x="1203" y="500" width="1" height="3" fill="#000"/><rect x="1203" y="506" width="1" height="3" fill="#000"/><rect x="1203" y="512" width="1" height="3" fill="#000"/><rect x="1203" y="518" width="1" height="3" fill="#000"/><rect x="1203" y="524" width="1" height="3" fill="#000"/><rect x="1203" y="530" width="1" height="3" fill="#000"/><rect x="1203" y="536" width="1" height="3" fill="#000"/><rect x="1203" y="542" width="1" height="3" fill="#000"/><rect x="1203" y="548" width="1" height="3" fill="#000"/><rect x="1203" y="554" width="1" height="3" fill="#000"/><rect x="1203" y="560" width="1" height="3" fill="#000"/><rect x="1203" y="566" width="1" height="3" fill="#000"/><rect x="1203" y="572" width="1" height="3" fill="#000"/><rect x="1203" y="578" width="1" height="3" fill="#000"/><rect x="1203" y="584" width="1" height="3" fill="#000"/><rect x="1203" y="590" width="1" height="3" fill="#000"/><rect x="1203" y="596" width="1" height="3" fill="#000"/><rect x="1203" y="602" width="1" height="3" fill="#000"/><rect x="1203" y="614" width="1" height="3" fill="#000"/><rect x="1203" y="620" width="1" height="3" fill="#000"/><rect x="1203" y="626" width="1" height="3" fill="#000"/><rect x="1203" y="632" width="1" height="3" fill="#000"/><rect x="1203" y="638" width="1" height="3" fill="#000"/><rect x="1203" y="644" width="1" height="3" fill="#000"/><rect x="1203" y="650" width="1" height="3" fill="#000"/><rect x="1203" y="656" width="1" height="3" fill="#000"/><rect x="1203" y="662" width="1" height="3" fill="#000"/><rect x="1203" y="668" width="1" height="3" fill="#000"/><rect x="1203" y="674" width="1" height="3" fill="#000"/><rect x="1203" y="680" width="1" height="3" fill="#000"/><rect x="1203" y="686" width="1" height="3" fill="#000"/><rect x="1203" y="692" width="1" height="3" fill="#000"/><rect x="1203" y="698" width="1" height="3" fill="#000"/><rect x="1203" y="704" width="1" height="3" fill="#000"/><rect x="1203" y="710" width="1" height="3" fill="#000"/><rect x="1203" y="716" width="1" height="3" fill="#000"/><rect x="1203" y="722" width="1" height="3" fill="#000"/><rect x="1203" y="728" width="1" height="3" fill="#000"/><rect x="1203" y="734" width="1" height="3" fill="#000"/><rect x="1203" y="740" width="1" height="3" fill="#000"/><rect x="1203" y="746" width="1" height="3" fill="#000"/><rect x="1203" y="752" width="1" height="3" fill="#000"/><rect x="1203" y="758" width="1" height="2" fill="#000"/><rect x="1203" y="609" width="1" height="1" fill="#000"/><rect x="1419" y="3" width="1" height="2" fill="#000"/><rect x="1419" y="8" width="1" height="3" fill="#000"/><rect x="1419" y="14" width="1" height="3" fill="#000"/><rect x="1419" y="20" width="1" height="3" fill="#000"/><rect x="1419" y="26" width="1" height="3" fill="#000"/><rect x="1419" y="32" width="1" height="3" fill="#000"/><rect x="1419" y="38" width="1" height="3" fill="#000"/><rect x="1419" y="44" width="1" height="3" fill="#000"/><rect x="1419" y="50" width="1" height="3" fill="#000"/><rect x="1419" y="56" width="1" height="3" fill="#000"/><rect x="1419" y="62" width="1" height="3" fill="#000"/><rect x="1419" y="68" width="1" height="3" fill="#000"/><rect x="1419" y="74" width="1" height="3" fill="#000"/><rect x="1419" y="80" width="1" height="3" fill="#000"/><rect x="1419" y="86" width="1" height="3" fill="#000"/><rect x="1419" y="92" width="1" height="3" fill="#000"/><rect x="1419" y="98" width="1" height="3" fill="#000"/><rect x="1419" y="104" width="1" height="3" fill="#000"/><rect x="1419" y="110" width="1" height="3" fill="#000"/><rect x="1419" y="116" width="1" height="3" fill="#000"/><rect x="1419" y="122" width="1" height="3" fill="#000"/><rect x="1419" y="128" width="1" height="3" fill="#000"/><rect x="1419" y="134" width="1" height="3" fill="#000"/><rect x="1419" y="140" width="1" height="3" fill="#000"/><rect x="1419" y="146" width="1" height="3" fill="#000"/><rect x="1419" y="152" width="1" height="3" fill="#000"/><rect x="1419" y="158" width="1" height="3" fill="#000"/><rect x="1419" y="164" width="1" height="3" fill="#000"/><rect x="1419" y="170" width="1" height="3" fill="#000"/><rect x="1419" y="176" width="1" height="3" fill="#000"/><rect x="1419" y="182" width="1" height="3" fill="#000"/><rect x="1419" y="188" width="1" height="3" fill="#000"/><rect x="1419" y="194" width="1" height="3" fill="#000"/><rect x="1419" y="200" width="1" height="3" fill="#000"/><rect x="1419" y="206" width="1" height="3" fill="#000"/><rect x="1419" y="212" width="1" height="3" fill="#000"/><rect x="1419" y="218" width="1" height="3" fill="#000"/><rect x="1419" y="224" width="1" height="3" fill="#000"/><rect x="1419" y="230" width="1" height="3" fill="#000"/><rect x="1419" y="236" width="1" height="3" fill="#000"/><rect x="1419" y="242" width="1" height="3" fill="#000"/><rect x="1419" y="248" width="1" height="3" fill="#000"/><rect x="1419" y="254" width="1" height="3" fill="#000"/><rect x="1419" y="260" width="1" height="3" fill="#000"/><rect x="1419" y="266" width="1" height="3" fill="#000"/><rect x="1419" y="272" width="1" height="3" fill="#000"/><rect x="1419" y="278" width="1" height="3" fill="#000"/><rect x="1419" y="284" width="1" height="3" fill="#000"/><rect x="1419" y="290" width="1" height="3" fill="#000"/><rect x="1419" y="296" width="1" height="3" fill="#000"/><rect x="1419" y="302" width="1" height="3" fill="#000"/><rect x="1419" y="308" width="1" height="3" fill="#000"/><rect x="1419" y="314" width="1" height="3" fill="#000"/><rect x="1419" y="320" width="1" height="3" fill="#000"/><rect x="1419" y="326" width="1" height="3" fill="#000"/><rect x="1419" y="332" width="1" height="3" fill="#000"/><rect x="1419" y="338" width="1" height="3" fill="#000"/><rect x="1419" y="344" width="1" height="3" fill="#000"/><rect x="1419" y="350" width="1" height="3" fill="#000"/><rect x="1419" y="356" width="1" height="3" fill="#000"/><rect x="1419" y="362" width="1" height="3" fill="#000"/><rect x="1419" y="368" width="1" height="3" fill="#000"/><rect x="1419" y="374" width="1" height="3" fill="#000"/><rect x="1419" y="380" width="1" height="3" fill="#000"/><rect x="1419" y="386" width="1" height="3" fill="#000"/><rect x="1419" y="392" width="1" height="3" fill="#000"/><rect x="1419" y="398" width="1" height="3" fill="#000"/><rect x="1419" y="404" width="1" height="3" fill="#000"/><rect x="1419" y="410" width="1" height="3" fill="#000"/><rect x="1419" y="416" width="1" height="3" fill="#000"/><rect x="1419" y="422" width="1" height="3" fill="#000"/><rect x="1419" y="428" width="1" height="3" fill="#000"/><rect x="1419" y="434" width="1" height="3" fill="#000"/><rect x="1419" y="440" width="1" height="3" fill="#000"/><rect x="1419" y="446" width="1" height="3" fill="#000"/><rect x="1419" y="452" width="1" height="3" fill="#000"/><rect x="1419" y="458" width="1" height="3" fill="#000"/><rect x="1419" y="464" width="1" height="3" fill="#000"/><rect x="1419" y="470" width="1" height="3" fill="#000"/><rect x="1419" y="476" width="1" height="3" fill="#000"/><rect x="1419" y="482" width="1" height="3" fill="#000"/><rect x="1419" y="488" width="1" height="3" fill="#000"/><rect x="1419" y="494" width="1" height="3" fill="#000"/><rect x="1419" y="500" width="1" height="3" fill="#000"/><rect x="1419" y="506" width="1" height="3" fill="#000"/><rect x="1419" y="512" width="1" height="3" fill="#000"/><rect x="1419" y="518" width="1" height="3" fill="#000"/><rect x="1419" y="524" width="1" height="3" fill="#000"/><rect x="1419" y="530" width="1" height="3" fill="#000"/><rect x="1419" y="536" width="1" height="3" fill="#000"/><rect x="1419" y="542" width="1" height="3" fill="#000"/><rect x="1419" y="548" width="1" height="3" fill="#000"/><rect x="1419" y="554" width="1" height="3" fill="#000"/><rect x="1419" y="560" width="1" height="3" fill="#000"/><rect x="1419" y="566" width="1" height="3" fill="#000"/><rect x="1419" y="572" width="1" height="3" fill="#000"/><rect x="1419" y="578" width="1" height="3" fill="#000"/><rect x="1419" y="584" width="1" height="3" fill="#000"/><rect x="1419" y="590" width="1" height="3" fill="#000"/><rect x="1419" y="596" width="1" height="3" fill="#000"/><rect x="1419" y="602" width="1" height="3" fill="#000"/><rect x="1419" y="614" width="1" height="3" fill="#000"/><rect x="1419" y="620" width="1" height="3" fill="#000"/><rect x="1419" y="626" width="1" height="3" fill="#000"/><rect x="1419" y="632" width="1" height="3" fill="#000"/><rect x="1419" y="638" width="1" height="3" fill="#000"/><rect x="1419" y="644" width="1" height="3" fill="#000"/><rect x="1419" y="650" width="1" height="3" fill="#000"/><rect x="1419" y="656" width="1" height="3" fill="#000"/><rect x="1419" y="662" width="1" height="3" fill="#000"/><rect x="1419" y="668" width="1" height="3" fill="#000"/><rect x="1419" y="674" width="1" height="3" fill="#000"/><rect x="1419" y="680" width="1" height="3" fill="#000"/><rect x="1419" y="686" width="1" height="3" fill="#000"/><rect x="1419" y="692" width="1" height="3" fill="#000"/><rect x="1419" y="698" width="1" height="3" fill="#000"/><rect x="1419" y="704" width="1" height="3" fill="#000"/><rect x="1419" y="710" width="1" height="3" fill="#000"/><rect x="1419" y="716" width="1" height="3" fill="#000"/><rect x="1419" y="722" width="1" height="3" fill="#000"/><rect x="1419" y="728" width="1" height="3" fill="#000"/><rect x="1419" y="734" width="1" height="3" fill="#000"/><rect x="1419" y="740" width="1" height="3" fill="#000"/><rect x="1419" y="746" width="1" height="3" fill="#000"/><rect x="1419" y="752" width="1" height="3" fill="#000"/><rect x="1419" y="758" width="1" height="2" fill="#000"/><rect x="1419" y="609" width="1" height="1" fill="#000"/><rect x="3" y="136" width="1634" height="3" fill="#32CD32"/><rect x="3" y="326" width="1634" height="3" fill="#FF0000"/><rect x="3" y="452" width="1634" height="3" fill="#0000CD"/><rect x="3" y="583" width="1634" height="3" fill="#00FF00"/><polyline points="3,135.5 11,133.1 19,131.1 27,129.5 35,128.0 43,126.3 51,124.7 59,123.2 67,122.0 75,121.2 83,120.8 91,120.6 99,120.7 107,120.9 115,121.0 123,121.0 131,120.7 139,120.0 147,119.2 155,118.5 163,118.2 171,118.0 179,117.7 187,117.3 195,116.8 203,116.3 211,115.8 219,115.4 227,115.0 235,114.7 243,114.6 251,114.6 259,114.7 267,115.0 275,115.3 283,115.8 291,116.3 299,116.8 307,117.2 315,117.6 323,118.0 331,118.4 339,118.9 347,119.5 355,120.3 363,121.3 371,122.3 379,123.5 387,124.6 395,125.8 403,126.9 411,127.9 419,128.8 427,129.5 435,130.0 443,130.1 451,129.9 459,129.6 467,129.2 475,128.9 483,128.8 491,129.0 499,129.3 507,129.7 515,130.0 523,130.1 531,130.1 539,130.1 547,130.0 555,130.1 563,130.3 571,130.8 579,131.5 587,132.5 595,133.4 603,134.2 611,134.9 619,135.6 627,136.3 635,137.1 643,138.1 651,139.4 659,141.1 667,143.0 675,145.2 683,147.6 691,150.0 699,152.4 707,154.8 715,157.1 723,159.3 731,161.4 739,163.3 747,165.0 755,166.5 763,167.8 771,169.1 779,170.5 787,172.4 795,174.5 803,176.6 811,178.6 819,180.1 827,181.3 835,182.4 843,183.4 851,184.1 859,184.6 867,184.9 875,185.2 883,185.9 891,186.8 899,188.0 907,189.3 915,190.6 923,191.8 931,192.9 939,193.9 947,194.7 955,195.4 963,196.1 971,197.1 979,198.5 987,200.2 995,202.2 1003,204.5 1011,207.0 1019,209.7 1027,212.4 1035,215.0 1043,217.6 1051,219.9 1059,222.0 1067,224.1 1075,226.1 1083,228.3 1091,230.7 1099,233.3 1107,236.0 1115,238.7 1123,241.4 1131,243.8 1139,246.2 1147,248.3 1155,250.4 1163,252.3 1171,254.1 1179,255.8 1187,257.4 1195,259.0 1203,260.8 1211,262.7 1219,264.7 1227,266.7 1235,268.4 1243,269.8 1251,271.2 1259,273.0 1267,275.1 1275,277.2 1283,278.8 1291,279.6 1299,280.0" fill="none" stroke="#00FF00" stroke-width="2" stroke-linejoin="round" shape-rendering="crispEdges"/><polyline points="3,164.3 11,168.4 19,172.5 27,176.5 35,180.5 43,184.2 51,187.5 59,190.5 67,193.5 75,196.9 83,201.5 91,207.2 99,212.5 107,216.0 115,219.6 123,223.4 131,225.1 139,225.0 147,224.3 155,224.0 163,223.7 171,223.3 179,222.5 187,221.0 195,219.1 203,216.9 211,214.7 219,212.5 227,210.6 235,209.1 243,207.8 251,206.8 259,206.1 267,205.5 275,204.8 283,203.7 291,202.4 299,201.2 307,200.3 315,200.0 323,200.5 331,202.1 339,203.4 347,203.8 355,203.6 363,203.5 371,203.7 379,204.8 387,206.4 395,208.1 403,209.5 411,210.4 419,210.5 427,210.1 435,209.3 443,208.0 451,206.2 459,203.7 467,200.4 475,196.2 483,191.1 491,185.6 499,180.1 507,175.2 515,171.4 523,168.9 531,167.1 539,165.2 547,162.5 555,159.4 563,157.0 571,156.2 579,157.3 587,159.7 595,162.8 603,165.4 611,166.3 619,166.6 627,167.9 635,170.1 643,173.1 651,176.5 659,180.1 667,183.6 675,186.8 683,190.0 691,193.7 699,197.8 707,202.2 715,206.3 723,209.4 731,211.3 739,212.7 747,214.5 755,217.6 763,221.0 771,223.4 779,225.3 787,228.3 795,232.2 803,235.6 811,237.9 819,240.6 827,245.0 835,250.6 843,256.5 851,262.0 859,267.2 867,272.3 875,277.6 883,283.5 891,290.1 899,297.3 907,304.4 915,310.5 923,315.3 931,319.7 939,324.6 947,330.4 955,336.6 963,342.4 971,347.5 979,352.0 987,356.2 995,360.7 1003,365.8 1011,372.0 1019,379.5 1027,387.2 1035,393.8 1043,399.3 1051,403.8 1059,407.5 1067,410.6 1075,413.2 1083,415.5 1091,417.6 1099,419.6 1107,421.6 1115,423.7 1123,426.1 1131,428.5 1139,430.6 1147,432.2 1155,433.1 1163,433.4 1171,433.4 1179,433.3 1187,433.2 1195,433.1 1203,433.1 1211,433.1 1219,433.2 1227,433.3 1235,433.5 1243,433.7 1251,433.9 1259,434.1 1267,434.2 1275,434.2 1283,434.1 1291,433.8 1299,433.5" fill="none" stroke="#8A2BE2" stroke-width="2" stroke-linejoin="round" shape-rendering="crispEdges"/><rect x="3" y="194" width="1" height="46" fill="#000"/><rect x="1" y="198" width="5" height="40" fill="#000"/><rect x="2" y="199" width="3" height="38" fill="#FFFFFF"/><rect x="11" y="137" width="1" height="63" fill="#000"/><rect x="9" y="175" width="5" height="23" fill="#000"/><rect x="10" y="176" width="3" height="21" fill="#FFFFFF"/><rect x="19" y="150" width="1" height="31" fill="#000"/><rect x="17" y="166" width="5" height="12" fill="#000"/><rect x="18" y="167" width="3" height="10" fill="#FFFFFF"/><rect x="27" y="158" width="1" height="52" fill="#9400D3"/><rect x="25" y="165" width="5" height="37" fill="#9400D3"/><rect x="26" y="166" width="3" height="35" fill="#800080"/><rect x="35" y="188" width="1" height="38" fill="#9400D3"/><rect x="33" y="207" width="5" height="11" fill="#9400D3"/><rect x="34" y="208" width="3" height="9" fill="#800080"/><rect x="43" y="201" width="1" height="35" fill="#000"/><rect x="41" y="207" width="5" height="9" fill="#000"/><rect x="42" y="208" width="3" height="7" fill="#FFFFFF"/><rect x="51" y="159" width="1" height="59" fill="#000"/><rect x="49" y="178" width="5" height="30" fill="#000"/><rect x="50" y="179" width="3" height="28" fill="#FFFFFF"/><rect x="59" y="171" width="1" height="43" fill="#9400D3"/><rect x="57" y="178" width="5" height="31" fill="#9400D3"/><rect x="58" y="179" width="3" height="29" fill="#800080"/><rect x="67" y="171" width="1" height="44" fill="#000"/><rect x="65" y="177" width="5" height="31" fill="#000"/><rect x="66" y="178" width="3" height="29" fill="#FFFFFF"/><rect x="75" y="174" width="1" height="28" fill="#9400D3"/><rect x="73" y="177" width="5" height="17" fill="#9400D3"/><rect x="74" y="178" width="3" height="15" fill="#800080"/><rect x="83" y="186" width="1" height="106" fill="#9400D3"/><rect x="81" y="197" width="5" height="79" fill="#9400D3"/><rect x="82" y="198" width="3" height="77" fill="#800080"/><rect x="91" y="250" width="1" height="68" fill="#9400D3"/><rect x="89" y="276" width="5" height="34" fill="#9400D3"/><rect x="90" y="277" width="3" height="32" fill="#800080"/><rect x="99" y="300" width="1" height="66" fill="#9400D3"/><rect x="97" y="311" width="5" height="44" fill="#9400D3"/><rect x="98" y="312" width="3" height="42" fill="#800080"/><rect x="107" y="338" width="1" height="31" fill="#000"/><rect x="105" y="343" width="5" height="12" fill="#000"/><rect x="106" y="344" width="3" height="10" fill="#FFFFFF"/><rect x="115" y="288" width="1" height="71" fill="#000"/><rect x="113" y="301" width="5" height="58" fill="#000"/><rect x="114" y="302" width="3" height="56" fill="#FFFFFF"/><rect x="123" y="237" width="1" height="72" fill="#000"/><rect x="121" y="247" width="5" height="55" fill="#000"/><rect x="122" y="248" width="3" height="53" fill="#FFFFFF"/><rect x="131" y="223" width="1" height="45" fill="#000"/><rect x="129" y="233" width="5" height="20" fill="#000"/><rect x="130" y="234" width="3" height="18" fill="#FFFFFF"/><rect x="139" y="229" width="1" height="30" fill="#9400D3"/><rect x="137" y="233" width="5" height="21" fill="#9400D3"/><rect x="138" y="234" width="3" height="19" fill="#800080"/><rect x="147" y="194" width="1" height="71" fill="#000"/><rect x="145" y="200" width="5" height="54" fill="#000"/><rect x="146" y="201" width="3" height="52" fill="#FFFFFF"/><rect x="155" y="198" width="1" height="24" fill="#000"/><rect x="153" y="214" width="5" height="1" fill="#000"/><rect x="163" y="154" width="1" height="65" fill="#000"/><rect x="161" y="178" width="5" height="38" fill="#000"/><rect x="162" y="179" width="3" height="36" fill="#FFFFFF"/><rect x="171" y="146" width="1" height="39" fill="#000"/><rect x="169" y="153" width="5" height="25" fill="#000"/><rect x="170" y="154" width="3" height="23" fill="#FFFFFF"/><rect x="179" y="112" width="1" height="52" fill="#000"/><rect x="177" y="123" width="5" height="31" fill="#000"/><rect x="178" y="124" width="3" height="29" fill="#FFFFFF"/><rect x="187" y="71" width="1" height="56" fill="#000"/><rect x="185" y="84" width="5" height="39" fill="#000"/><rect x="186" y="85" width="3" height="37" fill="#FFFFFF"/><rect x="195" y="81" width="1" height="26" fill="#9400D3"/><rect x="193" y="88" width="5" height="13" fill="#9400D3"/><rect x="194" y="89" width="3" height="11" fill="#800080"/><rect x="203" y="85" width="1" height="55" fill="#9400D3"/><rect x="201" y="101" width="5" height="30" fill="#9400D3"/><rect x="202" y="102" width="3" height="28" fill="#800080"/><rect x="211" y="116" width="1" height="33" fill="#9400D3"/><rect x="209" y="130" width="5" height="4" fill="#9400D3"/><rect x="210" y="131" width="3" height="2" fill="#800080"/><rect x="219" y="100" width="1" height="44" fill="#000"/><rect x="217" y="126" width="5" height="7" fill="#000"/><rect x="218" y="127" width="3" height="5" fill="#FFFFFF"/><rect x="227" y="82" width="1" height="56" fill="#000"/><rect x="225" y="118" width="5" height="8" fill="#000"/><rect x="226" y="119" width="3" height="6" fill="#FFFFFF"/><rect x="235" y="110" width="1" height="22" fill="#000"/><rect x="233" y="114" width="5" height="6" fill="#000"/><rect x="234" y="115" width="3" height="4" fill="#FFFFFF"/><rect x="243" y="87" width="1" height="57" fill="#9400D3"/><rect x="241" y="114" width="5" height="19" fill="#9400D3"/><rect x="242" y="115" width="3" height="17" fill="#800080"/><rect x="251" y="113" width="1" height="38" fill="#000"/><rect x="249" y="125" width="5" height="8" fill="#000"/><rect x="250" y="126" width="3" height="6" fill="#FFFFFF"/><rect x="259" y="96" width="1" height="66" fill="#9400D3"/><rect x="257" y="126" width="5" height="24" fill="#9400D3"/><rect x="258" y="127" width="3" height="22" fill="#800080"/><rect x="267" y="139" width="1" height="51" fill="#9400D3"/><rect x="265" y="149" width="5" height="32" fill="#9400D3"/><rect x="266" y="150" width="3" height="30" fill="#800080"/><rect x="275" y="175" width="1" height="28" fill="#9400D3"/><rect x="273" y="185" width="5" height="4" fill="#9400D3"/><rect x="274" y="186" width="3" height="2" fill="#800080"/><rect x="283" y="164" width="1" height="52" fill="#9400D3"/><rect x="281" y="191" width="5" height="16" fill="#9400D3"/><rect x="282" y="192" width="3" height="14" fill="#800080"/><rect x="291" y="164" width="1" height="53" fill="#9400D3"/><rect x="289" y="206" width="5" height="9" fill="#9400D3"/><rect x="290" y="207" width="3" height="7" fill="#800080"/><rect x="299" y="134" width="1" height="92" fill="#000"/><rect x="297" y="156" width="5" height="58" fill="#000"/><rect x="298" y="157" width="3" height="56" fill="#FFFFFF"/><rect x="307" y="144" width="1" height="69" fill="#9400D3"/><rect x="305" y="159" width="5" height="43" fill="#9400D3"/><rect x="306" y="160" width="3" height="41" fill="#800080"/><rect x="315" y="183" width="1" height="35" fill="#000"/><rect x="313" y="201" width="5" height="9" fill="#000"/><rect x="314" y="202" width="3" height="7" fill="#FFFFFF"/><rect x="323" y="188" width="1" height="69" fill="#9400D3"/><rect x="321" y="201" width="5" height="45" fill="#9400D3"/><rect x="322" y="202" width="3" height="43" fill="#800080"/><rect x="331" y="239" width="1" height="86" fill="#9400D3"/><rect x="329" y="245" width="5" height="75" fill="#9400D3"/><rect x="330" y="246" width="3" height="73" fill="#800080"/><rect x="339" y="273" width="1" height="52" fill="#000"/><rect x="337" y="293" width="5" height="26" fill="#000"/><rect x="338" y="294" width="3" height="24" fill="#FFFFFF"/><rect x="347" y="248" width="1" height="63" fill="#000"/><rect x="345" y="259" width="5" height="34" fill="#000"/><rect x="346" y="260" width="3" height="32" fill="#FFFFFF"/><rect x="355" y="225" width="1" height="46" fill="#000"/><rect x="353" y="243" width="5" height="20" fill="#000"/><rect x="354" y="244" width="3" height="18" fill="#FFFFFF"/><rect x="363" y="229" width="1" height="40" fill="#9400D3"/><rect x="361" y="243" width="5" height="2" fill="#9400D3"/><rect x="371" y="226" width="1" height="85" fill="#9400D3"/><rect x="369" y="244" width="5" height="37" fill="#9400D3"/><rect x="370" y="245" width="3" height="35" fill="#800080"/><rect x="379" y="255" width="1" height="31" fill="#000"/><rect x="377" y="272" width="5" height="10" fill="#000"/><rect x="378" y="273" width="3" height="8" fill="#FFFFFF"/><rect x="387" y="242" width="1" height="43" fill="#000"/><rect x="385" y="269" width="5" height="4" fill="#000"/><rect x="386" y="270" width="3" height="2" fill="#FFFFFF"/><rect x="395" y="239" width="1" height="42" fill="#000"/><rect x="393" y="261" width="5" height="17" fill="#000"/><rect x="394" y="262" width="3" height="15" fill="#FFFFFF"/><rect x="403" y="234" width="1" height="39" fill="#9400D3"/><rect x="401" y="266" width="5" height="2" fill="#9400D3"/><rect x="411" y="236" width="1" height="47" fill="#000"/><rect x="409" y="242" width="5" height="29" fill="#000"/><rect x="410" y="243" width="3" height="27" fill="#FFFFFF"/><rect x="419" y="176" width="1" height="78" fill="#000"/><rect x="417" y="183" width="5" height="63" fill="#000"/><rect x="418" y="184" width="3" height="61" fill="#FFFFFF"/><rect x="427" y="147" width="1" height="43" fill="#000"/><rect x="425" y="151" width="5" height="32" fill="#000"/><rect x="426" y="152" width="3" height="30" fill="#FFFFFF"/><rect x="435" y="124" width="1" height="47" fill="#000"/><rect x="433" y="140" width="5" height="15" fill="#000"/><rect x="434" y="141" width="3" height="13" fill="#FFFFFF"/><rect x="443" y="69" width="1" height="77" fill="#000"/><rect x="441" y="85" width="5" height="55" fill="#000"/><rect x="442" y="86" width="3" height="53" fill="#FFFFFF"/><rect x="451" y="40" width="1" height="52" fill="#000"/><rect x="449" y="46" width="5" height="42" fill="#000"/><rect x="450" y="47" width="3" height="40" fill="#FFFFFF"/><rect x="459" y="32" width="1" height="64" fill="#9400D3"/><rect x="457" y="45" width="5" height="39" fill="#9400D3"/><rect x="458" y="46" width="3" height="37" fill="#800080"/><rect x="467" y="56" width="1" height="48" fill="#9400D3"/><rect x="465" y="84" width="5" height="4" fill="#9400D3"/><rect x="466" y="85" width="3" height="2" fill="#800080"/><rect x="475" y="65" width="1" height="40" fill="#000"/><rect x="473" y="84" width="5" height="13" fill="#000"/><rect x="474" y="85" width="3" height="11" fill="#FFFFFF"/><rect x="483" y="52" width="1" height="36" fill="#000"/><rect x="481" y="78" width="5" height="7" fill="#000"/><rect x="482" y="79" width="3" height="5" fill="#FFFFFF"/><rect x="491" y="56" width="1" height="48" fill="#000"/><rect x="489" y="75" width="5" height="7" fill="#000"/><rect x="490" y="76" width="3" height="5" fill="#FFFFFF"/><rect x="499" y="33" width="1" height="54" fill="#000"/><rect x="497" y="46" width="5" height="30" fill="#000"/><rect x="498" y="47" width="3" height="28" fill="#FFFFFF"/><rect x="507" y="45" width="1" height="55" fill="#9400D3"/><rect x="505" y="47" width="5" height="25" fill="#9400D3"/><rect x="506" y="48" width="3" height="23" fill="#800080"/><rect x="515" y="49" width="1" height="47" fill="#000"/><rect x="513" y="63" width="5" height="20" fill="#000"/><rect x="514" y="64" width="3" height="18" fill="#FFFFFF"/><rect x="523" y="58" width="1" height="77" fill="#9400D3"/><rect x="521" y="58" width="5" height="63" fill="#9400D3"/><rect x="522" y="59" width="3" height="61" fill="#800080"/><rect x="531" y="69" width="1" height="59" fill="#000"/><rect x="529" y="88" width="5" height="33" fill="#000"/><rect x="530" y="89" width="3" height="31" fill="#FFFFFF"/><rect x="539" y="64" width="1" height="69" fill="#9400D3"/><rect x="537" y="89" width="5" height="39" fill="#9400D3"/><rect x="538" y="90" width="3" height="37" fill="#800080"/><rect x="547" y="106" width="1" height="46" fill="#000"/><rect x="545" y="113" width="5" height="14" fill="#000"/><rect x="546" y="114" width="3" height="12" fill="#FFFFFF"/><rect x="555" y="66" width="1" height="62" fill="#000"/><rect x="553" y="79" width="5" height="48" fill="#000"/><rect x="554" y="80" width="3" height="46" fill="#FFFFFF"/><rect x="563" y="68" width="1" height="54" fill="#9400D3"/><rect x="561" y="79" width="5" height="27" fill="#9400D3"/><rect x="562" y="80" width="3" height="25" fill="#800080"/><rect x="571" y="102" width="1" height="64" fill="#9400D3"/><rect x="569" y="105" width="5" height="57" fill="#9400D3"/><rect x="570" y="106" width="3" height="55" fill="#800080"/><rect x="579" y="152" width="1" height="49" fill="#9400D3"/><rect x="577" y="162" width="5" height="31" fill="#9400D3"/><rect x="578" y="163" width="3" height="29" fill="#800080"/><rect x="587" y="171" width="1" height="42" fill="#000"/><rect x="585" y="176" width="5" height="21" fill="#000"/><rect x="586" y="177" width="3" height="19" fill="#FFFFFF"/><rect x="595" y="144" width="1" height="42" fill="#000"/><rect x="593" y="172" width="5" height="10" fill="#000"/><rect x="594" y="173" width="3" height="8" fill="#FFFFFF"/><rect x="603" y="158" width="1" height="65" fill="#9400D3"/><rect x="601" y="173" width="5" height="46" fill="#9400D3"/><rect x="602" y="174" width="3" height="44" fill="#800080"/><rect x="611" y="193" width="1" height="34" fill="#000"/><rect x="609" y="214" width="5" height="4" fill="#000"/><rect x="610" y="215" width="3" height="2" fill="#FFFFFF"/><rect x="619" y="168" width="1" height="50" fill="#000"/><rect x="617" y="172" width="5" height="42" fill="#000"/><rect x="618" y="173" width="3" height="40" fill="#FFFFFF"/><rect x="627" y="172" width="1" height="46" fill="#9400D3"/><rect x="625" y="173" width="5" height="42" fill="#9400D3"/><rect x="626" y="174" width="3" height="40" fill="#800080"/><rect x="635" y="198" width="1" height="55" fill="#9400D3"/><rect x="633" y="207" width="5" height="42" fill="#9400D3"/><rect x="634" y="208" width="3" height="40" fill="#800080"/><rect x="643" y="228" width="1" height="51" fill="#9400D3"/><rect x="641" y="245" width="5" height="11" fill="#9400D3"/><rect x="642" y="246" width="3" height="9" fill="#800080"/><rect x="651" y="239" width="1" height="89" fill="#9400D3"/><rect x="649" y="255" width="5" height="57" fill="#9400D3"/><rect x="650" y="256" width="3" height="55" fill="#800080"/><rect x="659" y="296" width="1" height="45" fill="#9400D3"/><rect x="657" y="313" width="5" height="15" fill="#9400D3"/><rect x="658" y="314" width="3" height="13" fill="#800080"/><rect x="667" y="326" width="1" height="44" fill="#9400D3"/><rect x="665" y="328" width="5" height="37" fill="#9400D3"/><rect x="666" y="329" width="3" height="35" fill="#800080"/><rect x="675" y="341" width="1" height="42" fill="#9400D3"/><rect x="673" y="347" width="5" height="6" fill="#9400D3"/><rect x="674" y="348" width="3" height="4" fill="#800080"/><rect x="683" y="328" width="1" height="68" fill="#9400D3"/><rect x="681" y="352" width="5" height="4" fill="#9400D3"/><rect x="682" y="353" width="3" height="2" fill="#800080"/><rect x="691" y="317" width="1" height="53" fill="#9400D3"/><rect x="689" y="355" width="5" height="12" fill="#9400D3"/><rect x="690" y="356" width="3" height="10" fill="#800080"/><rect x="699" y="347" width="1" height="27" fill="#000"/><rect x="697" y="362" width="5" height="5" fill="#000"/><rect x="698" y="363" width="3" height="3" fill="#FFFFFF"/><rect x="707" y="357" width="1" height="64" fill="#9400D3"/><rect x="705" y="362" width="5" height="56" fill="#9400D3"/><rect x="706" y="363" width="3" height="54" fill="#800080"/><rect x="715" y="402" width="1" height="20" fill="#000"/><rect x="713" y="411" width="5" height="4" fill="#000"/><rect x="714" y="412" width="3" height="2" fill="#FFFFFF"/><rect x="723" y="378" width="1" height="47" fill="#000"/><rect x="721" y="384" width="5" height="32" fill="#000"/><rect x="722" y="385" width="3" height="30" fill="#FFFFFF"/><rect x="731" y="357" width="1" height="44" fill="#000"/><rect x="729" y="369" width="5" height="15" fill="#000"/><rect x="730" y="370" width="3" height="13" fill="#FFFFFF"/><rect x="739" y="354" width="1" height="35" fill="#9400D3"/><rect x="737" y="366" width="5" height="14" fill="#9400D3"/><rect x="738" y="367" width="3" height="12" fill="#800080"/><rect x="747" y="367" width="1" height="31" fill="#000"/><rect x="745" y="374" width="5" height="7" fill="#000"/><rect x="746" y="375" width="3" height="5" fill="#FFFFFF"/><rect x="755" y="371" width="1" height="47" fill="#9400D3"/><rect x="753" y="374" width="5" height="37" fill="#9400D3"/><rect x="754" y="375" width="3" height="35" fill="#800080"/><rect x="763" y="396" width="1" height="30" fill="#9400D3"/><rect x="761" y="410" width="5" height="10" fill="#9400D3"/><rect x="762" y="411" width="3" height="8" fill="#800080"/><rect x="771" y="382" width="1" height="72" fill="#000"/><rect x="769" y="396" width="5" height="23" fill="#000"/><rect x="770" y="397" width="3" height="21" fill="#FFFFFF"/><rect x="779" y="345" width="1" height="63" fill="#000"/><rect x="777" y="373" width="5" height="15" fill="#000"/><rect x="778" y="374" width="3" height="13" fill="#FFFFFF"/><rect x="787" y="371" width="1" height="61" fill="#9400D3"/><rect x="785" y="373" width="5" height="51" fill="#9400D3"/><rect x="786" y="374" width="3" height="49" fill="#800080"/><rect x="795" y="416" width="1" height="36" fill="#9400D3"/><rect x="793" y="418" width="5" height="28" fill="#9400D3"/><rect x="794" y="419" width="3" height="26" fill="#800080"/><rect x="803" y="394" width="1" height="58" fill="#000"/><rect x="801" y="403" width="5" height="43" fill="#000"/><rect x="802" y="404" width="3" height="41" fill="#FFFFFF"/><rect x="811" y="355" width="1" height="67" fill="#000"/><rect x="809" y="363" width="5" height="41" fill="#000"/><rect x="810" y="364" width="3" height="39" fill="#FFFFFF"/><rect x="819" y="339" width="1" height="37" fill="#000"/><rect x="817" y="353" width="5" height="20" fill="#000"/><rect x="818" y="354" width="3" height="18" fill="#FFFFFF"/><rect x="827" y="345" width="1" height="31" fill="#9400D3"/><rect x="825" y="353" width="5" height="21" fill="#9400D3"/><rect x="826" y="354" width="3" height="19" fill="#800080"/><rect x="835" y="352" width="1" height="31" fill="#9400D3"/><rect x="833" y="361" width="5" height="18" fill="#9400D3"/><rect x="834" y="362" width="3" height="16" fill="#800080"/><rect x="843" y="349" width="1" height="34" fill="#9400D3"/><rect x="841" y="368" width="5" height="15" fill="#9400D3"/><rect x="842" y="369" width="3" height="13" fill="#800080"/><rect x="851" y="338" width="1" height="45" fill="#000"/><rect x="849" y="351" width="5" height="32" fill="#000"/><rect x="850" y="352" width="3" height="30" fill="#FFFFFF"/><rect x="859" y="326" width="1" height="34" fill="#000"/><rect x="857" y="348" width="5" height="4" fill="#000"/><rect x="858" y="349" width="3" height="2" fill="#FFFFFF"/><rect x="867" y="330" width="1" height="30" fill="#000"/><rect x="865" y="337" width="5" height="12" fill="#000"/><rect x="866" y="338" width="3" height="10" fill="#FFFFFF"/><rect x="875" y="327" width="1" height="68" fill="#9400D3"/><rect x="873" y="356" width="5" height="36" fill="#9400D3"/><rect x="874" y="357" width="3" height="34" fill="#800080"/><rect x="883" y="352" width="1" height="50" fill="#000"/><rect x="881" y="366" width="5" height="26" fill="#000"/><rect x="882" y="367" width="3" height="24" fill="#FFFFFF"/><rect x="891" y="342" width="1" height="40" fill="#9400D3"/><rect x="889" y="367" width="5" height="11" fill="#9400D3"/><rect x="890" y="368" width="3" height="9" fill="#800080"/><rect x="899" y="375" width="1" height="53" fill="#9400D3"/><rect x="897" y="377" width="5" height="39" fill="#9400D3"/><rect x="898" y="378" width="3" height="37" fill="#800080"/><rect x="907" y="388" width="1" height="38" fill="#000"/><rect x="905" y="394" width="5" height="22" fill="#000"/><rect x="906" y="395" width="3" height="20" fill="#FFFFFF"/><rect x="915" y="386" width="1" height="40" fill="#9400D3"/><rect x="913" y="394" width="5" height="15" fill="#9400D3"/><rect x="914" y="395" width="3" height="13" fill="#800080"/><rect x="923" y="380" width="1" height="42" fill="#000"/><rect x="921" y="386" width="5" height="22" fill="#000"/><rect x="922" y="387" width="3" height="20" fill="#FFFFFF"/><rect x="931" y="326" width="1" height="69" fill="#000"/><rect x="929" y="334" width="5" height="51" fill="#000"/><rect x="930" y="335" width="3" height="49" fill="#FFFFFF"/><rect x="939" y="299" width="1" height="58" fill="#000"/><rect x="937" y="324" width="5" height="10" fill="#000"/><rect x="938" y="325" width="3" height="8" fill="#FFFFFF"/><rect x="947" y="312" width="1" height="68" fill="#9400D3"/><rect x="945" y="324" width="5" height="52" fill="#9400D3"/><rect x="946" y="325" width="3" height="50" fill="#800080"/><rect x="955" y="358" width="1" height="26" fill="#9400D3"/><rect x="953" y="365" width="5" height="14" fill="#9400D3"/><rect x="954" y="366" width="3" height="12" fill="#800080"/><rect x="963" y="366" width="1" height="46" fill="#9400D3"/><rect x="961" y="378" width="5" height="21" fill="#9400D3"/><rect x="962" y="379" width="3" height="19" fill="#800080"/><rect x="971" y="363" width="1" height="41" fill="#000"/><rect x="969" y="389" width="5" height="10" fill="#000"/><rect x="970" y="390" width="3" height="8" fill="#FFFFFF"/><rect x="979" y="368" width="1" height="46" fill="#9400D3"/><rect x="977" y="389" width="5" height="21" fill="#9400D3"/><rect x="978" y="390" width="3" height="19" fill="#800080"/><rect x="987" y="406" width="1" height="44" fill="#9400D3"/><rect x="985" y="409" width="5" height="35" fill="#9400D3"/><rect x="986" y="410" width="3" height="33" fill="#800080"/><rect x="995" y="431" width="1" height="56" fill="#9400D3"/><rect x="993" y="444" width="5" height="13" fill="#9400D3"/><rect x="994" y="445" width="3" height="11" fill="#800080"/><rect x="1003" y="446" width="1" height="41" fill="#9400D3"/><rect x="1001" y="456" width="5" height="11" fill="#9400D3"/><rect x="1002" y="457" width="3" height="9" fill="#800080"/><rect x="1011" y="452" width="1" height="53" fill="#9400D3"/><rect x="1009" y="466" width="5" height="30" fill="#9400D3"/><rect x="1010" y="467" width="3" height="28" fill="#800080"/><rect x="1019" y="486" width="1" height="75" fill="#9400D3"/><rect x="1017" y="495" width="5" height="56" fill="#9400D3"/><rect x="1018" y="496" width="3" height="54" fill="#800080"/><rect x="1027" y="542" width="1" height="52" fill="#9400D3"/><rect x="1025" y="550" width="5" height="37" fill="#9400D3"/><rect x="1026" y="551" width="3" height="35" fill="#800080"/><rect x="1035" y="538" width="1" height="50" fill="#000"/><rect x="1033" y="555" width="5" height="32" fill="#000"/><rect x="1034" y="556" width="3" height="30" fill="#FFFFFF"/><rect x="1043" y="494" width="1" height="69" fill="#000"/><rect x="1041" y="505" width="5" height="51" fill="#000"/><rect x="1042" y="506" width="3" height="49" fill="#FFFFFF"/><rect x="1051" y="485" width="1" height="35" fill="#9400D3"/><rect x="1049" y="505" width="5" height="5" fill="#9400D3"/><rect x="1050" y="506" width="3" height="3" fill="#800080"/><rect x="1059" y="469" width="1" height="58" fill="#000"/><rect x="1057" y="486" width="5" height="25" fill="#000"/><rect x="1058" y="487" width="3" height="23" fill="#FFFFFF"/><rect x="1067" y="467" width="1" height="77" fill="#9400D3"/><rect x="1065" y="488" width="5" height="41" fill="#9400D3"/><rect x="1066" y="489" width="3" height="39" fill="#800080"/><rect x="1075" y="501" width="1" height="43" fill="#000"/><rect x="1073" y="513" width="5" height="16" fill="#000"/><rect x="1074" y="514" width="3" height="14" fill="#FFFFFF"/><rect x="1083" y="492" width="1" height="22" fill="#000"/><rect x="1081" y="496" width="5" height="18" fill="#000"/><rect x="1082" y="497" width="3" height="16" fill="#FFFFFF"/><rect x="1091" y="456" width="1" height="46" fill="#000"/><rect x="1089" y="469" width="5" height="27" fill="#000"/><rect x="1090" y="470" width="3" height="25" fill="#FFFFFF"/><rect x="1099" y="427" width="1" height="66" fill="#9400D3"/><rect x="1097" y="469" width="5" height="15" fill="#9400D3"/><rect x="1098" y="470" width="3" height="13" fill="#800080"/><rect x="1107" y="459" width="1" height="55" fill="#9400D3"/><rect x="1105" y="484" width="5" height="24" fill="#9400D3"/><rect x="1106" y="485" width="3" height="22" fill="#800080"/><rect x="1115" y="494" width="1" height="48" fill="#9400D3"/><rect x="1113" y="506" width="5" height="24" fill="#9400D3"/><rect x="1114" y="507" width="3" height="22" fill="#800080"/><rect x="1123" y="496" width="1" height="39" fill="#000"/><rect x="1121" y="506" width="5" height="17" fill="#000"/><rect x="1122" y="507" width="3" height="15" fill="#FFFFFF"/><rect x="1131" y="461" width="1" height="48" fill="#000"/><rect x="1129" y="472" width="5" height="31" fill="#000"/><rect x="1130" y="473" width="3" height="29" fill="#FFFFFF"/><rect x="1139" y="440" width="1" height="48" fill="#000"/><rect x="1137" y="465" width="5" height="9" fill="#000"/><rect x="1138" y="466" width="3" height="7" fill="#FFFFFF"/><rect x="1147" y="430" width="1" height="36" fill="#000"/><rect x="1145" y="463" width="5" height="3" fill="#000"/><rect x="1146" y="464" width="3" height="1" fill="#FFFFFF"/><rect x="1155" y="426" width="1" height="43" fill="#000"/><rect x="1153" y="456" width="5" height="7" fill="#000"/><rect x="1154" y="457" width="3" height="5" fill="#FFFFFF"/><rect x="1163" y="409" width="1" height="62" fill="#000"/><rect x="1161" y="429" width="5" height="27" fill="#000"/><rect x="1162" y="430" width="3" height="25" fill="#FFFFFF"/><rect x="1171" y="365" width="1" height="78" fill="#000"/><rect x="1169" y="399" width="5" height="29" fill="#000"/><rect x="1170" y="400" width="3" height="27" fill="#FFFFFF"/><rect x="1179" y="392" width="1" height="120" fill="#9400D3"/><rect x="1177" y="399" width="5" height="63" fill="#9400D3"/><rect x="1178" y="400" width="3" height="61" fill="#800080"/><rect x="1187" y="412" width="1" height="56" fill="#000"/><rect x="1185" y="418" width="5" height="44" fill="#000"/><rect x="1186" y="419" width="3" height="42" fill="#FFFFFF"/><rect x="1195" y="391" width="1" height="91" fill="#000"/><rect x="1193" y="403" width="5" height="79" fill="#000"/><rect x="1194" y="404" width="3" height="77" fill="#FFFFFF"/><rect x="1203" y="380" width="1" height="42" fill="#9400D3"/><rect x="1201" y="399" width="5" height="12" fill="#9400D3"/><rect x="1202" y="400" width="3" height="10" fill="#800080"/><rect x="1211" y="373" width="1" height="46" fill="#000"/><rect x="1209" y="384" width="5" height="28" fill="#000"/><rect x="1210" y="385" width="3" height="26" fill="#FFFFFF"/><rect x="1219" y="365" width="1" height="39" fill="#000"/><rect x="1217" y="374" width="5" height="11" fill="#000"/><rect x="1218" y="375" width="3" height="9" fill="#FFFFFF"/><rect x="1227" y="314" width="1" height="86" fill="#000"/><rect x="1225" y="323" width="5" height="51" fill="#000"/><rect x="1226" y="324" width="3" height="49" fill="#FFFFFF"/><rect x="1235" y="270" width="1" height="87" fill="#9400D3"/><rect x="1233" y="336" width="5" height="20" fill="#9400D3"/><rect x="1234" y="337" width="3" height="18" fill="#800080"/><rect x="1243" y="331" width="1" height="43" fill="#9400D3"/><rect x="1241" y="354" width="5" height="17" fill="#9400D3"/><rect x="1242" y="355" width="3" height="15" fill="#800080"/><rect x="1251" y="330" width="1" height="46" fill="#000"/><rect x="1249" y="347" width="5" height="27" fill="#000"/><rect x="1250" y="348" width="3" height="25" fill="#FFFFFF"/><rect x="1259" y="312" width="1" height="53" fill="#000"/><rect x="1257" y="326" width="5" height="21" fill="#000"/><rect x="1258" y="327" width="3" height="19" fill="#FFFFFF"/><rect x="1267" y="311" width="1" height="64" fill="#9400D3"/><rect x="1265" y="326" width="5" height="42" fill="#9400D3"/><rect x="1266" y="327" width="3" height="40" fill="#800080"/><rect x="1275" y="361" width="1" height="56" fill="#9400D3"/><rect x="1273" y="367" width="5" height="50" fill="#9400D3"/><rect x="1274" y="368" width="3" height="48" fill="#800080"/><rect x="1283" y="379" width="1" height="53" fill="#000"/><rect x="1281" y="398" width="5" height="19" fill="#000"/><rect x="1282" y="399" width="3" height="17" fill="#FFFFFF"/><rect x="1291" y="336" width="1" height="84" fill="#000"/><rect x="1289" y="344" width="5" height="54" fill="#000"/><rect x="1290" y="345" width="3" height="52" fill="#FFFFFF"/><rect x="1299" y="326" width="1" height="32" fill="#000"/><rect x="1297" y="330" width="5" height="15" fill="#000"/><rect x="1298" y="331" width="3" height="13" fill="#FFFFFF"/><rect x="2" y="670" width="3" height="17" fill="#000"/><rect x="10" y="670" width="3" height="11" fill="#000"/><rect x="18" y="670" width="3" height="5" fill="#000"/><rect x="26" y="670" width="3" height="4" fill="#000"/><rect x="34" y="670" width="3" height="4" fill="#000"/><rect x="42" y="670" width="3" height="4" fill="#000"/><rect x="50" y="670" width="3" height="1" fill="#000"/><rect x="58" y="670" width="3" height="1" fill="#000"/><rect x="66" y="667" width="3" height="3" fill="#000"/><rect x="74" y="667" width="3" height="3" fill="#000"/><rect x="82" y="670" width="3" height="5" fill="#000"/><rect x="90" y="670" width="3" height="15" fill="#000"/><rect x="98" y="670" width="3" height="27" fill="#000"/><rect x="106" y="670" width="3" height="35" fill="#000"/><rect x="114" y="670" width="3" height="36" fill="#000"/><rect x="122" y="670" width="3" height="32" fill="#000"/><rect x="130" y="670" width="3" height="26" fill="#000"/><rect x="138" y="670" width="3" height="24" fill="#000"/><rect x="146" y="670" width="3" height="16" fill="#000"/><rect x="154" y="670" width="3" height="11" fill="#000"/><rect x="162" y="670" width="3" height="4" fill="#000"/><rect x="170" y="665" width="3" height="5" fill="#000"/><rect x="178" y="655" width="3" height="15" fill="#000"/><rect x="186" y="644" width="3" height="26" fill="#000"/><rect x="194" y="637" width="3" height="33" fill="#000"/><rect x="202" y="635" width="3" height="35" fill="#000"/><rect x="210" y="634" width="3" height="36" fill="#000"/><rect x="218" y="633" width="3" height="37" fill="#000"/><rect x="226" y="632" width="3" height="38" fill="#000"/><rect x="234" y="631" width="3" height="39" fill="#000"/><rect x="242" y="633" width="3" height="37" fill="#000"/><rect x="250" y="634" width="3" height="36" fill="#000"/><rect x="258" y="637" width="3" height="33" fill="#000"/><rect x="266" y="644" width="3" height="26" fill="#000"/><rect x="274" y="650" width="3" height="20" fill="#000"/><rect x="282" y="656" width="3" height="14" fill="#000"/><rect x="290" y="663" width="3" height="7" fill="#000"/><rect x="298" y="662" width="3" height="8" fill="#000"/><rect x="306" y="666" width="3" height="4" fill="#000"/><rect x="314" y="669" width="3" height="1" fill="#000"/><rect x="322" y="670" width="3" height="7" fill="#000"/><rect x="330" y="670" width="3" height="20" fill="#000"/><rect x="338" y="670" width="3" height="27" fill="#000"/><rect x="346" y="670" width="3" height="29" fill="#000"/><rect x="354" y="670" width="3" height="28" fill="#000"/><rect x="362" y="670" width="3" height="28" fill="#000"/><rect x="370" y="670" width="3" height="31" fill="#000"/><rect x="378" y="670" width="3" height="32" fill="#000"/><rect x="386" y="670" width="3" height="32" fill="#000"/><rect x="394" y="670" width="3" height="31" fill="#000"/><rect x="402" y="670" width="3" height="30" fill="#000"/><rect x="410" y="670" width="3" height="27" fill="#000"/><rect x="418" y="670" width="3" height="18" fill="#000"/><rect x="426" y="670" width="3" height="8" fill="#000"/><rect x="434" y="668" width="3" height="2" fill="#000"/><rect x="442" y="655" width="3" height="15" fill="#000"/><rect x="450" y="641" width="3" height="29" fill="#000"/><rect x="458" y="635" width="3" height="35" fill="#000"/><rect x="466" y="630" width="3" height="40" fill="#000"/><rect x="474" y="627" width="3" height="43" fill="#000"/><rect x="482" y="624" width="3" height="46" fill="#000"/><rect x="490" y="622" width="3" height="48" fill="#000"/><rect x="498" y="618" width="3" height="52" fill="#000"/><rect x="506" y="618" width="3" height="52" fill="#000"/><rect x="514" y="618" width="3" height="52" fill="#000"/><rect x="522" y="624" width="3" height="46" fill="#000"/><rect x="530" y="627" width="3" height="43" fill="#000"/><rect x="538" y="633" width="3" height="37" fill="#000"/><rect x="546" y="636" width="3" height="34" fill="#000"/><rect x="554" y="636" width="3" height="34" fill="#000"/><rect x="562" y="639" width="3" height="31" fill="#000"/><rect x="570" y="648" width="3" height="22" fill="#000"/><rect x="578" y="658" width="3" height="12" fill="#000"/><rect x="586" y="664" width="3" height="6" fill="#000"/><rect x="594" y="668" width="3" height="2" fill="#000"/><rect x="602" y="670" width="3" height="8" fill="#000"/><rect x="610" y="670" width="3" height="13" fill="#000"/><rect x="618" y="670" width="3" height="14" fill="#000"/><rect x="626" y="670" width="3" height="18" fill="#000"/><rect x="634" y="670" width="3" height="25" fill="#000"/><rect x="642" y="670" width="3" height="30" fill="#000"/><rect x="650" y="670" width="3" height="40" fill="#000"/><rect x="658" y="670" width="3" height="49" fill="#000"/><rect x="666" y="670" width="3" height="58" fill="#000"/><rect x="674" y="670" width="3" height="64" fill="#000"/><rect x="682" y="670" width="3" height="69" fill="#000"/><rect x="690" y="670" width="3" height="73" fill="#000"/><rect x="698" y="670" width="3" height="75" fill="#000"/><rect x="706" y="670" width="3" height="81" fill="#000"/><rect x="714" y="670" width="3" height="84" fill="#000"/><rect x="722" y="670" width="3" height="82" fill="#000"/><rect x="730" y="670" width="3" height="78" fill="#000"/><rect x="738" y="670" width="3" height="76" fill="#000"/><rect x="746" y="670" width="3" height="73" fill="#000"/><rect x="754" y="670" width="3" height="74" fill="#000"/><rect x="762" y="670" width="3" height="74" fill="#000"/><rect x="770" y="670" width="3" height="71" fill="#000"/><rect x="778" y="670" width="3" height="65" fill="#000"/><rect x="786" y="670" width="3" height="65" fill="#000"/><rect x="794" y="670" width="3" height="66" fill="#000"/><rect x="802" y="670" width="3" height="62" fill="#000"/><rect x="810" y="670" width="3" height="55" fill="#000"/><rect x="818" y="670" width="3" height="48" fill="#000"/><rect x="826" y="670" width="3" height="42" fill="#000"/><rect x="834" y="670" width="3" height="40" fill="#000"/><rect x="842" y="670" width="3" height="36" fill="#000"/><rect x="850" y="670" width="3" height="31" fill="#000"/><rect x="858" y="670" width="3" height="26" fill="#000"/><rect x="866" y="670" width="3" height="21" fill="#000"/><rect x="874" y="670" width="3" height="22" fill="#000"/><rect x="882" y="670" width="3" height="20" fill="#000"/><rect x="890" y="670" width="3" height="19" fill="#000"/><rect x="898" y="670" width="3" height="22" fill="#000"/><rect x="906" y="670" width="3" height="22" fill="#000"/><rect x="914" y="670" width="3" height="21" fill="#000"/><rect x="922" y="670" width="3" height="21" fill="#000"/><rect x="930" y="670" width="3" height="15" fill="#000"/><rect x="938" y="670" width="3" height="9" fill="#000"/><rect x="946" y="670" width="3" height="9" fill="#000"/><rect x="954" y="670" width="3" height="9" fill="#000"/><rect x="962" y="670" width="3" height="11" fill="#000"/><rect x="970" y="670" width="3" height="12" fill="#000"/><rect x="978" y="670" width="3" height="13" fill="#000"/><rect x="986" y="670" width="3" height="19" fill="#000"/><rect x="994" y="670" width="3" height="24" fill="#000"/><rect x="1002" y="670" width="3" height="29" fill="#000"/><rect x="1010" y="670" width="3" height="36" fill="#000"/><rect x="1018" y="670" width="3" height="46" fill="#000"/><rect x="1026" y="670" width="3" height="57" fill="#000"/><rect x="1034" y="670" width="3" height="62" fill="#000"/><rect x="1042" y="670" width="3" height="60" fill="#000"/><rect x="1050" y="670" width="3" height="58" fill="#000"/><rect x="1058" y="670" width="3" height="53" fill="#000"/><rect x="1066" y="670" width="3" height="53" fill="#000"/><rect x="1074" y="670" width="3" height="53" fill="#000"/><rect x="1082" y="670" width="3" height="48" fill="#000"/><rect x="1090" y="670" width="3" height="42" fill="#000"/><rect x="1098" y="670" width="3" height="37" fill="#000"/><rect x="1106" y="670" width="3" height="36" fill="#000"/><rect x="1114" y="670" width="3" height="37" fill="#000"/><rect x="1122" y="670" width="3" height="35" fill="#000"/><rect x="1130" y="670" width="3" height="30" fill="#000"/><rect x="1138" y="670" width="3" height="24" fill="#000"/><rect x="1146" y="670" width="3" height="20" fill="#000"/><rect x="1154" y="670" width="3" height="16" fill="#000"/><rect x="1162" y="670" width="3" height="9" fill="#000"/><rect x="1170" y="670" width="3" height="1" fill="#000"/><rect x="1178" y="670" width="3" height="1" fill="#000"/><rect x="1186" y="666" width="3" height="4" fill="#000"/><rect x="1194" y="661" width="3" height="9" fill="#000"/><rect x="1202" y="658" width="3" height="12" fill="#000"/><rect x="1210" y="653" width="3" height="17" fill="#000"/><rect x="1218" y="648" width="3" height="22" fill="#000"/><rect x="1226" y="640" width="3" height="30" fill="#000"/><rect x="1234" y="637" width="3" height="33" fill="#000"/><rect x="1242" y="636" width="3" height="34" fill="#000"/><rect x="1250" y="634" width="3" height="36" fill="#000"/><rect x="1258" y="630" width="3" height="40" fill="#000"/><rect x="1266" y="632" width="3" height="38" fill="#000"/><rect x="1274" y="640" width="3" height="30" fill="#000"/><rect x="1282" y="643" width="3" height="27" fill="#000"/><rect x="1290" y="640" width="3" height="30" fill="#000"/><rect x="1298" y="638" width="3" height="32" fill="#000"/><polyline points="3,697.2 11,694.1 19,691.0 27,688.0 35,685.0 43,682.0 51,679.2 59,676.5 67,674.2 75,672.4 83,671.5 91,671.8 99,673.8 107,676.9 115,680.8 123,684.8 131,688.5 139,691.5 147,693.6 155,694.1 163,692.8 171,689.5 179,684.2 187,677.7 195,670.5 203,663.6 211,657.2 219,651.5 227,646.6 235,642.4 243,638.8 251,636.1 259,634.8 267,634.9 275,636.5 283,639.1 291,642.4 299,645.8 307,649.1 315,653.2 323,658.4 331,664.1 339,669.6 347,674.6 355,678.9 363,682.9 371,687.1 379,691.5 387,695.7 395,698.9 403,700.2 411,700.0 419,698.6 427,696.4 435,693.0 443,688.4 451,682.4 459,675.2 467,667.7 475,660.1 483,652.0 491,643.7 499,636.2 507,630.3 515,626.3 523,624.3 531,623.9 539,624.4 547,625.0 555,626.0 563,627.8 571,630.9 579,635.4 587,641.1 595,646.9 603,652.3 611,657.4 619,662.1 627,667.2 635,673.1 643,679.5 651,685.7 659,691.0 667,696.2 675,702.3 683,709.3 691,716.6 699,723.2 707,729.3 715,734.6 723,739.2 731,742.9 739,745.6 747,747.3 755,748.0 763,747.8 771,746.7 779,744.9 787,742.8 795,740.8 803,739.0 811,737.0 819,734.2 827,730.8 835,727.1 843,723.5 851,719.4 859,714.4 867,709.2 875,705.3 883,701.5 891,698.0 899,695.4 907,693.6 915,692.2 923,690.9 931,689.6 939,688.3 947,687.2 955,686.2 963,685.0 971,683.8 979,682.9 987,682.3 995,682.5 1003,683.9 1011,686.8 1019,691.0 1027,696.3 1035,702.0 1043,707.7 1051,712.8 1059,717.0 1067,720.3 1075,722.6 1083,723.7 1091,723.4 1099,721.5 1107,718.5 1115,716.0 1123,714.0 1131,711.8 1139,708.9 1147,705.4 1155,701.6 1163,697.8 1171,694.1 1179,690.2 1187,685.4 1195,680.0 1203,674.7 1211,670.1 1219,666.0 1227,661.7 1235,657.2 1243,652.7 1251,648.3 1259,644.5 1267,641.5 1275,639.3 1283,638.0 1291,637.2 1299,636.7" fill="none" stroke="#FF0000" stroke-width="2" stroke-linejoin="round" shape-rendering="crispEdges"/><rect x="0" y="0" width="2" height="781" fill="#FFFAFA"/><rect x="1638" y="0" width="45" height="781" fill="#FFFAFA"/><rect x="2" y="2" width="1636" height="1" fill="#000"/><rect x="2" y="608" width="1636" height="1" fill="#000"/><rect x="2" y="2" width="1" height="607" fill="#000"/><rect x="1637" y="2" width="1" height="607" fill="#000"/><rect x="2" y="610" width="1636" height="1" fill="#000"/><rect x="2" y="760" width="1636" height="1" fill="#000"/><rect x="2" y="610" width="1" height="151" fill="#000"/><rect x="1637" y="610" width="1" height="151" fill="#000"/><rect x="1638" y="11" width="3" height="1" fill="#000"/><rect x="1638" y="44" width="3" height="1" fill="#000"/><rect x="1638" y="77" width="3" height="1" fill="#000"/><rect x="1638" y="110" width="3" height="1" fill="#000"/><rect x="1638" y="143" width="3" height="1" fill="#000"/><rect x="1638" y="176" width="3" height="1" fill="#000"/><rect x="1638" y="209" width="3" height="1" fill="#000"/><rect x="1638" y="242" width="3" height="1" fill="#000"/><rect x="1638" y="275" width="3" height="1" fill="#000"/><rect x="1638" y="308" width="3" height="1" fill="#000"/><rect x="1638" y="341" width="3" height="1" fill="#000"/><rect x="1638" y="374" width="3" height="1" fill="#000"/><rect x="1638" y="407" width="3" height="1" fill="#000"/><rect x="1638" y="440" width="3" height="1" fill="#000"/><rect x="1638" y="473" width="3" height="1" fill="#000"/><rect x="1638" y="506" width="3" height="1" fill="#000"/><rect x="1638" y="539" width="3" height="1" fill="#000"/><rect x="1638" y="572" width="3" height="1" fill="#000"/><rect x="1638" y="605" width="3" height="1" fill="#000"/><rect x="1639" y="131" width="41" height="11" fill="#32CD32"/><rect x="1639" y="324" width="41" height="11" fill="#000"/><rect x="1639" y="321" width="41" height="11" fill="#FF0000"/><rect x="1639" y="447" width="41" height="11" fill="#0000CD"/><rect x="1639" y="578" width="41" height="11" fill="#00FF00"/><rect x="1638" y="612" width="2" height="1" fill="#000"/><rect x="1638" y="670" width="3" height="1" fill="#000"/><rect x="1638" y="758" width="2" height="1" fill="#000"/><rect x="3" y="761" width="1" height="3" fill="#000"/><rect x="67" y="761" width="1" height="3" fill="#000"/><rect x="131" y="761" width="1" height="3" fill="#000"/><rect x="195" y="761" width="1" height="3" fill="#000"/><rect x="259" y="761" width="1" height="3" fill="#000"/><rect x="323" y="761" width="1" height="3" fill="#000"/><rect x="387" y="761" width="1" height="3" fill="#000"/><rect x="451" y="761" width="1" height="3" fill="#000"/><rect x="515" y="761" width="1" height="3" fill="#000"/><rect x="579" y="761" width="1" height="3" fill="#000"/><rect x="643" y="761" width="1" height="3" fill="#000"/><rect x="707" y="761" width="1" height="3" fill="#000"/><rect x="771" y="761" width="1" height="3" fill="#000"/><rect x="835" y="761" width="1" height="3" fill="#000"/><rect x="899" y="761" width="1" height="3" fill="#000"/><rect x="963" y="761" width="1" height="3" fill="#000"/><rect x="1027" y="761" width="1" height="3" fill="#000"/><rect x="1091" y="761" width="1" height="3" fill="#000"/><rect x="1155" y="761" width="1" height="3" fill="#000"/><rect x="1219" y="761" width="1" height="3" fill="#000"/><rect x="1283" y="761" width="1" height="3" fill="#000"/><polygon points="6,9 13,9 9.5,13" fill="#000"/><g style='font-family:"Liberation Sans",sans-serif' shape-rendering="auto"><text x="1643" y="15" fill="#000" stroke="#000" stroke-width="0.1" font-size="9.3" textLength="32.89" lengthAdjust="spacingAndGlyphs" >0.72440</text><text x="1643" y="48" fill="#000" stroke="#000" stroke-width="0.1" font-size="9.3" textLength="32.89" lengthAdjust="spacingAndGlyphs" >0.72030</text><text x="1643" y="81" fill="#000" stroke="#000" stroke-width="0.1" font-size="9.3" textLength="32.89" lengthAdjust="spacingAndGlyphs" >0.71630</text><text x="1643" y="114" fill="#000" stroke="#000" stroke-width="0.1" font-size="9.3" textLength="32.89" lengthAdjust="spacingAndGlyphs" >0.71220</text><text x="1643" y="147" fill="#000" stroke="#000" stroke-width="0.1" font-size="9.3" textLength="32.89" lengthAdjust="spacingAndGlyphs" >0.70820</text><text x="1643" y="180" fill="#000" stroke="#000" stroke-width="0.1" font-size="9.3" textLength="32.89" lengthAdjust="spacingAndGlyphs" >0.70410</text><text x="1643" y="213" fill="#000" stroke="#000" stroke-width="0.1" font-size="9.3" textLength="32.89" lengthAdjust="spacingAndGlyphs" >0.70000</text><text x="1643" y="246" fill="#000" stroke="#000" stroke-width="0.1" font-size="9.3" textLength="32.89" lengthAdjust="spacingAndGlyphs" >0.69600</text><text x="1643" y="279" fill="#000" stroke="#000" stroke-width="0.1" font-size="9.3" textLength="32.89" lengthAdjust="spacingAndGlyphs" >0.69190</text><text x="1643" y="312" fill="#000" stroke="#000" stroke-width="0.1" font-size="9.3" textLength="32.89" lengthAdjust="spacingAndGlyphs" >0.68790</text><text x="1643" y="345" fill="#000" stroke="#000" stroke-width="0.1" font-size="9.3" textLength="32.89" lengthAdjust="spacingAndGlyphs" >0.68380</text><text x="1643" y="378" fill="#000" stroke="#000" stroke-width="0.1" font-size="9.3" textLength="32.89" lengthAdjust="spacingAndGlyphs" >0.67980</text><text x="1643" y="411" fill="#000" stroke="#000" stroke-width="0.1" font-size="9.3" textLength="32.89" lengthAdjust="spacingAndGlyphs" >0.67570</text><text x="1643" y="444" fill="#000" stroke="#000" stroke-width="0.1" font-size="9.3" textLength="32.89" lengthAdjust="spacingAndGlyphs" >0.67170</text><text x="1643" y="477" fill="#000" stroke="#000" stroke-width="0.1" font-size="9.3" textLength="32.89" lengthAdjust="spacingAndGlyphs" >0.66760</text><text x="1643" y="510" fill="#000" stroke="#000" stroke-width="0.1" font-size="9.3" textLength="32.89" lengthAdjust="spacingAndGlyphs" >0.66360</text><text x="1643" y="543" fill="#000" stroke="#000" stroke-width="0.1" font-size="9.3" textLength="32.89" lengthAdjust="spacingAndGlyphs" >0.65950</text><text x="1643" y="576" fill="#000" stroke="#000" stroke-width="0.1" font-size="9.3" textLength="32.89" lengthAdjust="spacingAndGlyphs" >0.65540</text><text x="1643" y="609" fill="#000" stroke="#000" stroke-width="0.1" font-size="9.3" textLength="32.89" lengthAdjust="spacingAndGlyphs" >0.65140</text><text x="1643" y="140" fill="#FFF" stroke="#FFF" stroke-width="0.1" font-size="9.3" textLength="32.89" lengthAdjust="spacingAndGlyphs" >0.70886</text><text x="1643" y="330" fill="#FFF" stroke="#FFF" stroke-width="0.1" font-size="9.3" textLength="32.89" lengthAdjust="spacingAndGlyphs" >0.68556</text><text x="1643" y="456" fill="#FFF" stroke="#FFF" stroke-width="0.1" font-size="9.3" textLength="32.89" lengthAdjust="spacingAndGlyphs" >0.67006</text><text x="1643" y="587" fill="#FFF" stroke="#FFF" stroke-width="0.1" font-size="9.3" textLength="32.89" lengthAdjust="spacingAndGlyphs" >0.65404</text><text x="1641" y="621" fill="#000" stroke="#000" stroke-width="0.1" font-size="9.3" textLength="37.95" lengthAdjust="spacingAndGlyphs" >0.005692</text><text x="1641" y="674" fill="#000" stroke="#000" stroke-width="0.1" font-size="9.3" textLength="17.71" lengthAdjust="spacingAndGlyphs" >0.00</text><text x="1641" y="757" fill="#000" stroke="#000" stroke-width="0.1" font-size="9.3" textLength="40.98" lengthAdjust="spacingAndGlyphs" >-0.008713</text><text x="2" y="773" fill="#000" stroke="#000" stroke-width="0.1" font-size="9.3" textLength="46.05" lengthAdjust="spacingAndGlyphs" >3 Aug 2021</text><text x="66" y="773" fill="#000" stroke="#000" stroke-width="0.1" font-size="9.3" textLength="51.11" lengthAdjust="spacingAndGlyphs" >13 Aug 2021</text><text x="130" y="773" fill="#000" stroke="#000" stroke-width="0.1" font-size="9.3" textLength="51.11" lengthAdjust="spacingAndGlyphs" >25 Aug 2021</text><text x="194" y="773" fill="#000" stroke="#000" stroke-width="0.1" font-size="9.3" textLength="46.55" lengthAdjust="spacingAndGlyphs" >6 Sep 2021</text><text x="258" y="773" fill="#000" stroke="#000" stroke-width="0.1" font-size="9.3" textLength="51.61" lengthAdjust="spacingAndGlyphs" >16 Sep 2021</text><text x="322" y="773" fill="#000" stroke="#000" stroke-width="0.1" font-size="9.3" textLength="51.61" lengthAdjust="spacingAndGlyphs" >28 Sep 2021</text><text x="386" y="773" fill="#000" stroke="#000" stroke-width="0.1" font-size="9.3" textLength="44.51" lengthAdjust="spacingAndGlyphs" >8 Oct 2021</text><text x="450" y="773" fill="#000" stroke="#000" stroke-width="0.1" font-size="9.3" textLength="49.58" lengthAdjust="spacingAndGlyphs" >20 Oct 2021</text><text x="514" y="773" fill="#000" stroke="#000" stroke-width="0.1" font-size="9.3" textLength="46.54" lengthAdjust="spacingAndGlyphs" >1 Nov 2021</text><text x="578" y="773" fill="#000" stroke="#000" stroke-width="0.1" font-size="9.3" textLength="50.93" lengthAdjust="spacingAndGlyphs" >11 Nov 2021</text><text x="642" y="773" fill="#000" stroke="#000" stroke-width="0.1" font-size="9.3" textLength="51.60" lengthAdjust="spacingAndGlyphs" >23 Nov 2021</text><text x="706" y="773" fill="#000" stroke="#000" stroke-width="0.1" font-size="9.3" textLength="46.54" lengthAdjust="spacingAndGlyphs" >3 Dec 2021</text><text x="770" y="773" fill="#000" stroke="#000" stroke-width="0.1" font-size="9.3" textLength="51.60" lengthAdjust="spacingAndGlyphs" >15 Dec 2021</text><text x="834" y="773" fill="#000" stroke="#000" stroke-width="0.1" font-size="9.3" textLength="51.60" lengthAdjust="spacingAndGlyphs" >27 Dec 2021</text><text x="898" y="773" fill="#000" stroke="#000" stroke-width="0.1" font-size="9.3" textLength="45.03" lengthAdjust="spacingAndGlyphs" >6 Jan 2022</text><text x="962" y="773" fill="#000" stroke="#000" stroke-width="0.1" font-size="9.3" textLength="50.09" lengthAdjust="spacingAndGlyphs" >18 Jan 2022</text><text x="1026" y="773" fill="#000" stroke="#000" stroke-width="0.1" font-size="9.3" textLength="50.09" lengthAdjust="spacingAndGlyphs" >28 Jan 2022</text><text x="1090" y="773" fill="#000" stroke="#000" stroke-width="0.1" font-size="9.3" textLength="46.04" lengthAdjust="spacingAndGlyphs" >9 Feb 2022</text><text x="1154" y="773" fill="#000" stroke="#000" stroke-width="0.1" font-size="9.3" textLength="51.10" lengthAdjust="spacingAndGlyphs" >21 Feb 2022</text><text x="1218" y="773" fill="#000" stroke="#000" stroke-width="0.1" font-size="9.3" textLength="46.03" lengthAdjust="spacingAndGlyphs" >3 Mar 2022</text><text x="1282" y="773" fill="#000" stroke="#000" stroke-width="0.1" font-size="9.3" textLength="51.09" lengthAdjust="spacingAndGlyphs" >15 Mar 2022</text><text x="18" y="14" fill="#000" stroke="#000" stroke-width="0.1" font-size="9.3" textLength="63.00" lengthAdjust="spacingAndGlyphs" >NZDUSD,Daily</text><text x="7" y="623" fill="#000" stroke="#000" stroke-width="0.1" font-size="9.3" textLength="147.34" lengthAdjust="spacingAndGlyphs" >MACD(12,26,9) 0.003145 0.003265</text></g></svg></body></html>
